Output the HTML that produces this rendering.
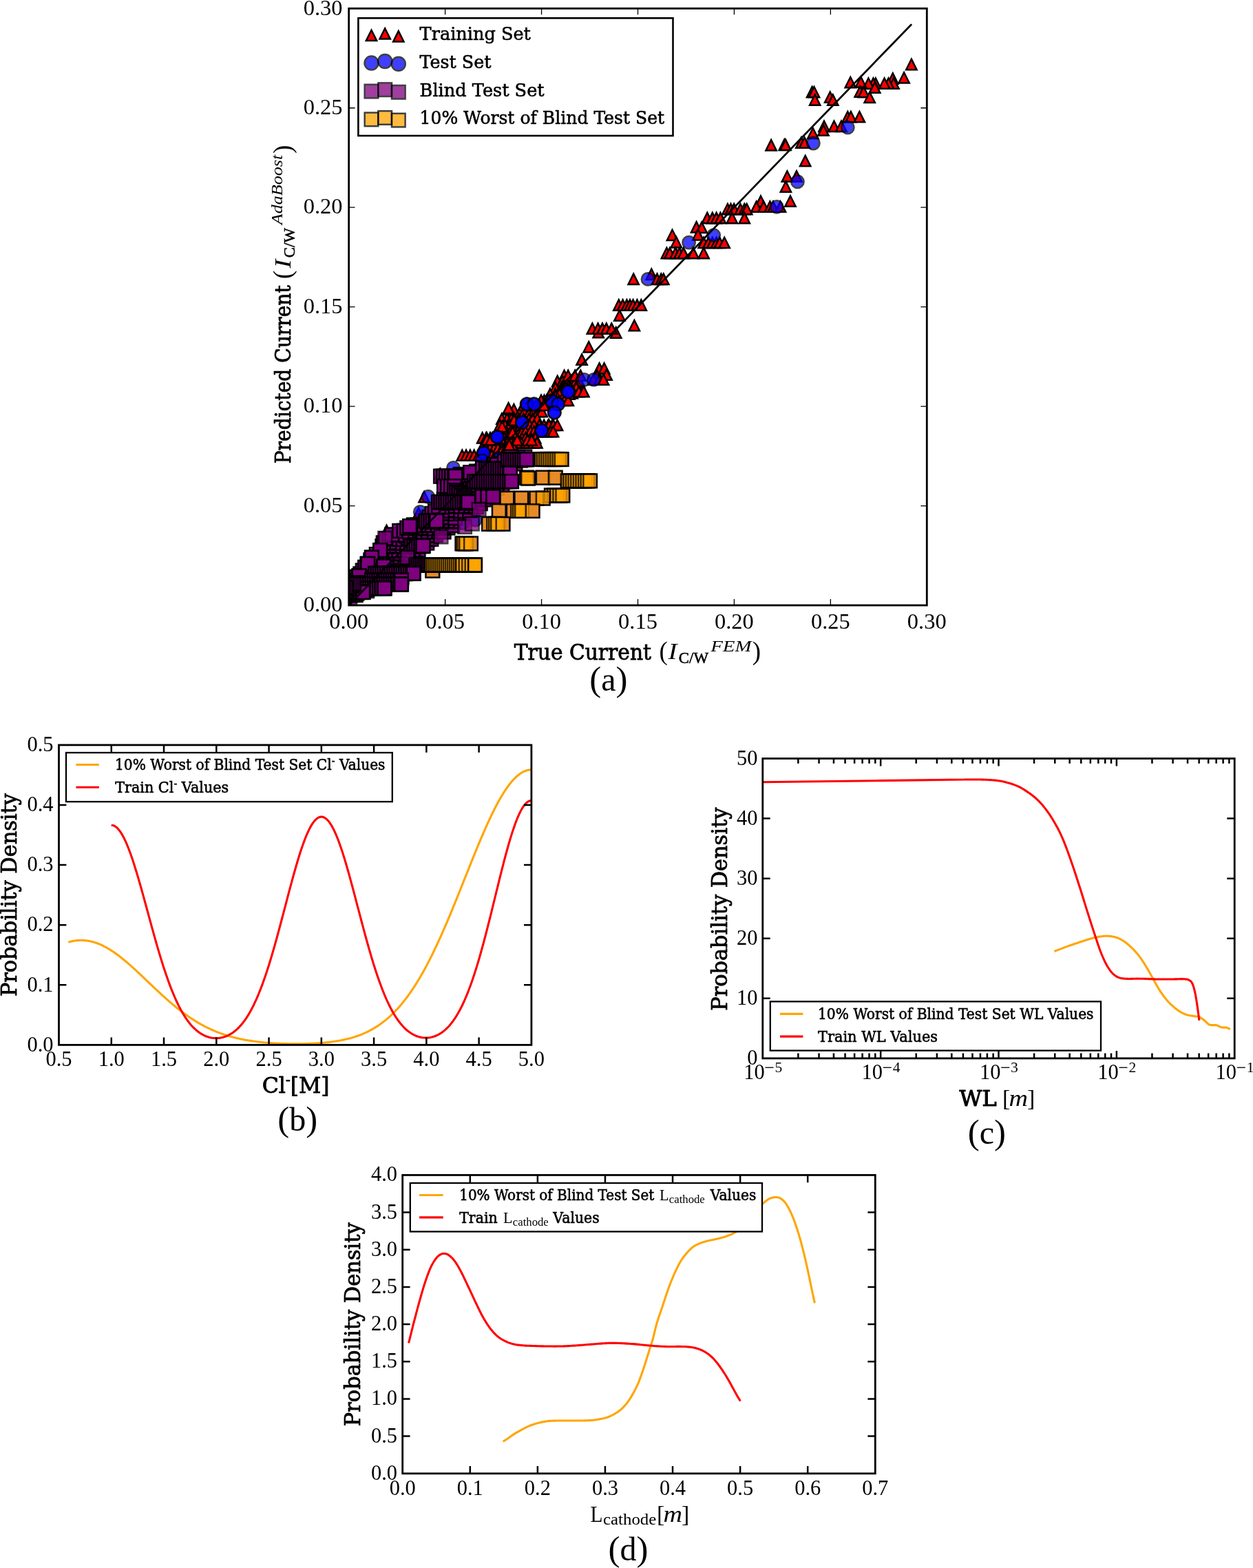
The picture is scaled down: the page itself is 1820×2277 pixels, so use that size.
<!DOCTYPE html>
<html lang="en"><head><meta charset="utf-8"><title>Figure</title>
<style>
html,body{margin:0;padding:0;background:#fff;}
svg{display:block;font-family:'Liberation Serif','DejaVu Serif',serif;}
text{fill:#000;}
.m use{opacity:.75;}
</style></head>
<body>
<svg width="1820" height="2277" viewBox="0 0 1820 2277">
<rect width="1820" height="2277" fill="#fff"/>
<clipPath id="ca"><rect x="506.7" y="12.3" width="839.5999999999999" height="866.7"/></clipPath>
<g clip-path="url(#ca)">
<defs><path id="t" d="M0 -7.65L7.65 7.65H-7.65Z"/><circle id="c" r="9.2"/><circle id="c2" r="10"/><rect id="q" x="-9.8" y="-9.8" width="19.6" height="19.6"/></defs>
<g fill="#f00" stroke="#000" stroke-width="2.5" stroke-linejoin="miter" stroke-miterlimit="10">
<use href="#t" x="1323.9" y="93.5"/><use href="#t" x="1313.1" y="112.9"/><use href="#t" x="1296.8" y="114.0"/><use href="#t" x="1298.0" y="121.1"/><use href="#t" x="1290.5" y="121.1"/><use href="#t" x="1284.6" y="121.1"/><use href="#t" x="1271.9" y="121.1"/><use href="#t" x="1268.4" y="121.3"/><use href="#t" x="1261.4" y="121.1"/><use href="#t" x="1250.4" y="119.2"/><use href="#t" x="1235.3" y="119.6"/><use href="#t" x="1270.7" y="127.1"/><use href="#t" x="1249.2" y="133.2"/><use href="#t" x="1254.5" y="133.7"/><use href="#t" x="1263.2" y="141.4"/><use href="#t" x="1179.6" y="133.7"/><use href="#t" x="1182.5" y="133.7"/><use href="#t" x="1183.7" y="145.1"/><use href="#t" x="1205.7" y="141.1"/><use href="#t" x="1209.8" y="145.1"/><use href="#t" x="1231.3" y="169.7"/><use href="#t" x="1235.9" y="169.7"/><use href="#t" x="1248.4" y="169.7"/><use href="#t" x="1197.0" y="183.4"/><use href="#t" x="1211.5" y="183.4"/><use href="#t" x="1222.0" y="183.4"/><use href="#t" x="1180.8" y="193.6"/><use href="#t" x="1195.9" y="189.2"/><use href="#t" x="1163.9" y="207.2"/><use href="#t" x="1168.6" y="207.2"/><use href="#t" x="1169.7" y="233.7"/><use href="#t" x="1157.0" y="256.0"/><use href="#t" x="1120.1" y="210.8"/><use href="#t" x="1139.3" y="210.3"/><use href="#t" x="1141.0" y="210.3"/><use href="#t" x="1143.4" y="256.1"/><use href="#t" x="1141.4" y="271.2"/><use href="#t" x="1148.0" y="292.1"/><use href="#t" x="1105.0" y="292.3"/><use href="#t" x="1098.7" y="300.2"/><use href="#t" x="1109.1" y="300.2"/><use href="#t" x="1118.4" y="300.2"/><use href="#t" x="1123.0" y="300.2"/><use href="#t" x="1133.5" y="300.2"/><use href="#t" x="1011.6" y="329.8"/><use href="#t" x="1019.2" y="330.4"/><use href="#t" x="1013.9" y="340.8"/><use href="#t" x="1056.9" y="303.7"/><use href="#t" x="1061.5" y="303.7"/><use href="#t" x="1066.2" y="303.7"/><use href="#t" x="1075.4" y="303.7"/><use href="#t" x="1081.3" y="303.7"/><use href="#t" x="1084.7" y="303.7"/><use href="#t" x="1027.3" y="316.5"/><use href="#t" x="1034.8" y="316.5"/><use href="#t" x="1040.6" y="316.5"/><use href="#t" x="1046.4" y="316.5"/><use href="#t" x="1063.3" y="316.5"/><use href="#t" x="1081.3" y="316.5"/><use href="#t" x="1022.1" y="352.4"/><use href="#t" x="1029.0" y="352.4"/><use href="#t" x="1034.8" y="352.4"/><use href="#t" x="1040.6" y="352.4"/><use href="#t" x="1045.3" y="352.4"/><use href="#t" x="1052.2" y="352.4"/><use href="#t" x="1007.0" y="367.5"/><use href="#t" x="1022.1" y="367.5"/><use href="#t" x="976.5" y="341.4"/><use href="#t" x="982.3" y="351.9"/><use href="#t" x="920.2" y="405.3"/><use href="#t" x="946.3" y="398.3"/><use href="#t" x="954.5" y="405.3"/><use href="#t" x="960.3" y="405.3"/><use href="#t" x="963.8" y="405.3"/><use href="#t" x="899.9" y="458.1"/><use href="#t" x="921.4" y="472.6"/><use href="#t" x="894.7" y="483.0"/><use href="#t" x="869.2" y="482.7"/><use href="#t" x="855.2" y="503.9"/><use href="#t" x="968.4" y="367.5"/><use href="#t" x="973.0" y="367.5"/><use href="#t" x="981.2" y="367.5"/><use href="#t" x="987.0" y="367.5"/><use href="#t" x="992.8" y="367.5"/><use href="#t" x="898.8" y="443.0"/><use href="#t" x="904.6" y="443.0"/><use href="#t" x="910.4" y="443.0"/><use href="#t" x="915.0" y="443.0"/><use href="#t" x="919.6" y="443.0"/><use href="#t" x="925.4" y="443.0"/><use href="#t" x="931.3" y="443.0"/><use href="#t" x="860.4" y="477.2"/><use href="#t" x="868.6" y="477.2"/><use href="#t" x="875.0" y="477.2"/><use href="#t" x="880.8" y="477.2"/><use href="#t" x="888.3" y="477.2"/><use href="#t" x="845.1" y="522.2"/><use href="#t" x="783.3" y="545.4"/><use href="#t" x="819.6" y="545.4"/><use href="#t" x="832.3" y="553.5"/><use href="#t" x="870.6" y="534.9"/><use href="#t" x="877.6" y="534.9"/><use href="#t" x="881.1" y="544.2"/><use href="#t" x="871.8" y="551.2"/><use href="#t" x="867.2" y="545.4"/><use href="#t" x="839.3" y="561.6"/><use href="#t" x="847.4" y="568.0"/><use href="#t" x="831.2" y="570.9"/><use href="#t" x="816.1" y="562.8"/><use href="#t" x="821.9" y="570.9"/><use href="#t" x="811.4" y="564.0"/><use href="#t" x="790.5" y="581.4"/><use href="#t" x="798.7" y="587.2"/><use href="#t" x="820.7" y="580.2"/><use href="#t" x="738.9" y="594.7"/><use href="#t" x="746.4" y="594.7"/><use href="#t" x="755.7" y="597.6"/><use href="#t" x="761.5" y="597.6"/><use href="#t" x="769.6" y="597.6"/><use href="#t" x="775.4" y="597.6"/><use href="#t" x="781.3" y="597.6"/><use href="#t" x="787.1" y="597.6"/><use href="#t" x="731.3" y="617.4"/><use href="#t" x="737.1" y="617.4"/><use href="#t" x="742.9" y="617.4"/><use href="#t" x="772.0" y="617.4"/><use href="#t" x="796.3" y="617.4"/><use href="#t" x="802.1" y="617.4"/><use href="#t" x="792.9" y="622.0"/><use href="#t" x="799.8" y="622.0"/><use href="#t" x="707.0" y="635.9"/><use href="#t" x="715.1" y="635.9"/><use href="#t" x="723.2" y="635.9"/><use href="#t" x="739.5" y="642.9"/><use href="#t" x="749.9" y="642.9"/><use href="#t" x="755.7" y="642.9"/><use href="#t" x="765.0" y="642.9"/><use href="#t" x="769.6" y="642.9"/><use href="#t" x="809.7" y="553.5"/><use href="#t" x="816.8" y="553.5"/><use href="#t" x="822.7" y="553.5"/><use href="#t" x="829.7" y="553.5"/><use href="#t" x="836.1" y="553.5"/><use href="#t" x="841.2" y="553.5"/><use href="#t" x="806.8" y="562.8"/><use href="#t" x="815.7" y="562.8"/><use href="#t" x="821.3" y="562.8"/><use href="#t" x="828.2" y="562.8"/><use href="#t" x="837.0" y="562.8"/><use href="#t" x="816.0" y="568.6"/><use href="#t" x="825.0" y="568.6"/><use href="#t" x="832.3" y="568.6"/><use href="#t" x="840.8" y="568.6"/><use href="#t" x="847.8" y="568.6"/><use href="#t" x="799.0" y="572.1"/><use href="#t" x="806.5" y="572.1"/><use href="#t" x="812.6" y="572.1"/><use href="#t" x="820.1" y="572.1"/><use href="#t" x="826.9" y="572.1"/><use href="#t" x="786.0" y="581.4"/><use href="#t" x="794.0" y="581.4"/><use href="#t" x="800.0" y="581.4"/><use href="#t" x="805.7" y="581.4"/><use href="#t" x="811.5" y="581.4"/><use href="#t" x="819.8" y="581.4"/><use href="#t" x="825.3" y="581.4"/><use href="#t" x="760.9" y="588.3"/><use href="#t" x="767.0" y="588.3"/><use href="#t" x="772.5" y="588.3"/><use href="#t" x="778.7" y="588.3"/><use href="#t" x="783.3" y="588.3"/><use href="#t" x="790.1" y="588.3"/><use href="#t" x="728.9" y="608.1"/><use href="#t" x="736.4" y="608.1"/><use href="#t" x="742.7" y="608.1"/><use href="#t" x="747.2" y="608.1"/><use href="#t" x="753.7" y="608.1"/><use href="#t" x="760.3" y="608.1"/><use href="#t" x="768.4" y="608.1"/><use href="#t" x="773.6" y="608.1"/><use href="#t" x="780.4" y="608.1"/><use href="#t" x="726.2" y="617.4"/><use href="#t" x="733.7" y="617.4"/><use href="#t" x="740.4" y="617.4"/><use href="#t" x="747.2" y="617.4"/><use href="#t" x="754.8" y="617.4"/><use href="#t" x="761.7" y="617.4"/><use href="#t" x="769.4" y="617.4"/><use href="#t" x="775.9" y="617.4"/><use href="#t" x="783.4" y="617.4"/><use href="#t" x="790.2" y="617.4"/><use href="#t" x="797.5" y="617.4"/><use href="#t" x="803.7" y="617.4"/><use href="#t" x="809.5" y="617.4"/><use href="#t" x="735.7" y="626.6"/><use href="#t" x="741.7" y="626.6"/><use href="#t" x="747.4" y="626.6"/><use href="#t" x="752.4" y="626.6"/><use href="#t" x="758.5" y="626.6"/><use href="#t" x="763.2" y="626.6"/><use href="#t" x="770.4" y="626.6"/><use href="#t" x="775.6" y="626.6"/><use href="#t" x="780.8" y="626.6"/><use href="#t" x="786.0" y="626.6"/><use href="#t" x="793.7" y="626.6"/><use href="#t" x="799.8" y="626.6"/><use href="#t" x="803.5" y="626.6"/><use href="#t" x="700.7" y="635.9"/><use href="#t" x="706.2" y="635.9"/><use href="#t" x="712.0" y="635.9"/><use href="#t" x="718.7" y="635.9"/><use href="#t" x="726.2" y="635.9"/><use href="#t" x="732.8" y="635.9"/><use href="#t" x="737.2" y="635.9"/><use href="#t" x="745.0" y="635.9"/><use href="#t" x="750.0" y="635.9"/><use href="#t" x="758.0" y="635.9"/><use href="#t" x="763.4" y="635.9"/><use href="#t" x="771.1" y="635.9"/><use href="#t" x="777.7" y="635.9"/><use href="#t" x="705.8" y="642.9"/><use href="#t" x="712.2" y="642.9"/><use href="#t" x="715.8" y="642.9"/><use href="#t" x="720.5" y="642.9"/><use href="#t" x="726.9" y="642.9"/><use href="#t" x="730.8" y="642.9"/><use href="#t" x="736.4" y="642.9"/><use href="#t" x="742.2" y="642.9"/><use href="#t" x="747.8" y="642.9"/><use href="#t" x="752.0" y="642.9"/><use href="#t" x="757.0" y="642.9"/><use href="#t" x="764.1" y="642.9"/><use href="#t" x="768.1" y="642.9"/><use href="#t" x="774.8" y="642.9"/><use href="#t" x="779.9" y="642.9"/><use href="#t" x="699.7" y="651.0"/><use href="#t" x="705.7" y="651.0"/><use href="#t" x="711.7" y="651.0"/><use href="#t" x="717.7" y="651.0"/><use href="#t" x="723.4" y="651.0"/><use href="#t" x="729.2" y="651.0"/><use href="#t" x="735.1" y="651.0"/><use href="#t" x="741.6" y="651.0"/><use href="#t" x="746.4" y="651.0"/><use href="#t" x="825.2" y="545.4"/><use href="#t" x="835.2" y="545.4"/><use href="#t" x="843.3" y="545.4"/><use href="#t" x="862.0" y="551.2"/><use href="#t" x="870.6" y="551.2"/><use href="#t" x="876.5" y="551.2"/><use href="#t" x="671.3" y="661.2"/><use href="#t" x="677.1" y="661.2"/><use href="#t" x="682.9" y="661.2"/><use href="#t" x="688.7" y="661.2"/><use href="#t" x="695.0" y="661.2"/><use href="#t" x="706.1" y="661.2"/><use href="#t" x="714.2" y="661.2"/><use href="#t" x="707.2" y="638.0"/><use href="#t" x="713.0" y="638.6"/><use href="#t" x="738.6" y="592.7"/><use href="#t" x="746.7" y="610.1"/><use href="#t" x="744.4" y="627.5"/><use href="#t" x="751.3" y="639.1"/><use href="#t" x="766.4" y="639.1"/><use href="#t" x="772.2" y="639.1"/><use href="#t" x="739.7" y="646.1"/><use href="#t" x="729.3" y="619.4"/><use href="#t" x="660.8" y="760.4"/><use href="#t" x="655.0" y="760.4"/><use href="#t" x="561.5" y="770.5"/><use href="#t" x="661.3" y="760.0"/><use href="#t" x="616.1" y="721.7"/><use href="#t" x="639.3" y="688.1"/><use href="#t" x="608.0" y="744.9"/>
</g>
<g class="m" fill="#00f" stroke="#000" stroke-width="2.5">
<use href="#c" x="1231.3" y="185.1"/><use href="#c" x="1181.3" y="208.0"/><use href="#c" x="1128.3" y="300.4"/><use href="#c" x="1036.6" y="341.6"/><use href="#c" x="1000.6" y="352.1"/><use href="#c" x="1158.4" y="263.8"/><use href="#c" x="941.1" y="405.4"/><use href="#c" x="848.6" y="551.4"/><use href="#c" x="862.5" y="551.4"/><use href="#c" x="824.8" y="568.8"/><use href="#c" x="765.0" y="586.8"/><use href="#c" x="775.4" y="586.8"/><use href="#c" x="801.0" y="582.1"/><use href="#c" x="810.3" y="586.8"/><use href="#c" x="805.0" y="599.0"/><use href="#c" x="758.0" y="613.5"/><use href="#c" x="786.5" y="625.1"/><use href="#c" x="722.1" y="634.4"/><use href="#c" x="702.3" y="657.6"/><use href="#c" x="723.2" y="665.7"/><use href="#c" x="825.2" y="569.0"/><use href="#c" x="765.5" y="587.0"/><use href="#c" x="775.9" y="587.0"/><use href="#c" x="801.5" y="582.4"/><use href="#c" x="810.7" y="587.0"/><use href="#c" x="805.5" y="599.2"/><use href="#c" x="758.5" y="613.7"/><use href="#c" x="786.9" y="625.3"/><use href="#c" x="722.5" y="634.6"/><use href="#c" x="702.8" y="657.8"/><use href="#c" x="723.7" y="666.0"/><use href="#c" x="700.3" y="668.9"/><use href="#c" x="658.5" y="679.4"/><use href="#c" x="621.9" y="721.3"/><use href="#c" x="610.3" y="743.4"/><use href="#c" x="671.8" y="759.6"/><use href="#c" x="690.4" y="755.0"/>
</g>
<g class="m" fill="#800080" stroke="#000" stroke-width="2.5">
<use href="#q" x="499.5" y="866.3"/><use href="#q" x="499.5" y="866.3"/><use href="#q" x="507.3" y="865.1"/><use href="#q" x="507.3" y="865.1"/><use href="#q" x="516.3" y="860.7"/><use href="#q" x="516.3" y="860.7"/><use href="#q" x="499.6" y="859.7"/><use href="#q" x="499.6" y="859.7"/><use href="#q" x="498.7" y="855.7"/><use href="#q" x="498.7" y="855.7"/><use href="#q" x="506.6" y="856.3"/><use href="#q" x="506.6" y="856.3"/><use href="#q" x="515.4" y="855.6"/><use href="#q" x="515.4" y="855.6"/><use href="#q" x="524.5" y="855.2"/><use href="#q" x="524.5" y="855.2"/><use href="#q" x="530.2" y="856.4"/><use href="#q" x="530.2" y="856.4"/><use href="#q" x="538.3" y="854.5"/><use href="#q" x="538.3" y="854.5"/><use href="#q" x="563.5" y="848.7"/><use href="#q" x="563.5" y="848.7"/><use href="#q" x="556.1" y="848.7"/><use href="#q" x="556.1" y="848.7"/><use href="#q" x="550.1" y="849.0"/><use href="#q" x="550.1" y="849.0"/><use href="#q" x="543.0" y="850.0"/><use href="#q" x="543.0" y="850.0"/><use href="#q" x="535.0" y="849.5"/><use href="#q" x="535.0" y="849.5"/><use href="#q" x="530.0" y="849.2"/><use href="#q" x="530.0" y="849.2"/><use href="#q" x="521.7" y="849.8"/><use href="#q" x="521.7" y="849.8"/><use href="#q" x="514.2" y="849.5"/><use href="#q" x="514.2" y="849.5"/><use href="#q" x="507.5" y="849.2"/><use href="#q" x="507.5" y="849.2"/><use href="#q" x="501.1" y="850.2"/><use href="#q" x="501.1" y="850.2"/><use href="#q" x="509.5" y="843.3"/><use href="#q" x="509.5" y="843.3"/><use href="#q" x="517.7" y="844.0"/><use href="#q" x="517.7" y="844.0"/><use href="#q" x="524.8" y="843.1"/><use href="#q" x="524.8" y="843.1"/><use href="#q" x="533.1" y="844.3"/><use href="#q" x="533.1" y="844.3"/><use href="#q" x="539.9" y="844.5"/><use href="#q" x="539.9" y="844.5"/><use href="#q" x="545.8" y="844.2"/><use href="#q" x="545.8" y="844.2"/><use href="#q" x="555.1" y="844.8"/><use href="#q" x="555.1" y="844.8"/><use href="#q" x="559.7" y="843.6"/><use href="#q" x="559.7" y="843.6"/><use href="#q" x="567.9" y="844.4"/><use href="#q" x="567.9" y="844.4"/><use href="#q" x="576.1" y="844.2"/><use href="#q" x="576.1" y="844.2"/><use href="#q" x="583.5" y="838.2"/><use href="#q" x="583.5" y="838.2"/><use href="#q" x="576.9" y="838.4"/><use href="#q" x="576.9" y="838.4"/><use href="#q" x="568.8" y="838.9"/><use href="#q" x="568.8" y="838.9"/><use href="#q" x="561.9" y="837.6"/><use href="#q" x="561.9" y="837.6"/><use href="#q" x="552.8" y="838.5"/><use href="#q" x="552.8" y="838.5"/><use href="#q" x="547.5" y="837.9"/><use href="#q" x="547.5" y="837.9"/><use href="#q" x="539.9" y="837.8"/><use href="#q" x="539.9" y="837.8"/><use href="#q" x="534.2" y="837.7"/><use href="#q" x="534.2" y="837.7"/><use href="#q" x="526.8" y="839.1"/><use href="#q" x="526.8" y="839.1"/><use href="#q" x="518.5" y="837.8"/><use href="#q" x="518.5" y="837.8"/><use href="#q" x="523.4" y="833.4"/><use href="#q" x="523.4" y="833.4"/><use href="#q" x="532.1" y="834.4"/><use href="#q" x="532.1" y="834.4"/><use href="#q" x="537.0" y="834.6"/><use href="#q" x="537.0" y="834.6"/><use href="#q" x="545.4" y="833.0"/><use href="#q" x="545.4" y="833.0"/><use href="#q" x="552.9" y="833.0"/><use href="#q" x="552.9" y="833.0"/><use href="#q" x="561.2" y="833.1"/><use href="#q" x="561.2" y="833.1"/><use href="#q" x="568.3" y="833.1"/><use href="#q" x="568.3" y="833.1"/><use href="#q" x="575.7" y="833.6"/><use href="#q" x="575.7" y="833.6"/><use href="#q" x="581.2" y="833.8"/><use href="#q" x="581.2" y="833.8"/><use href="#q" x="588.9" y="833.2"/><use href="#q" x="588.9" y="833.2"/><use href="#q" x="593.1" y="829.7"/><use href="#q" x="593.1" y="829.7"/><use href="#q" x="583.3" y="829.9"/><use href="#q" x="583.3" y="829.9"/><use href="#q" x="578.0" y="829.7"/><use href="#q" x="578.0" y="829.7"/><use href="#q" x="570.6" y="828.9"/><use href="#q" x="570.6" y="828.9"/><use href="#q" x="563.1" y="828.9"/><use href="#q" x="563.1" y="828.9"/><use href="#q" x="556.4" y="828.3"/><use href="#q" x="556.4" y="828.3"/><use href="#q" x="550.0" y="829.4"/><use href="#q" x="550.0" y="829.4"/><use href="#q" x="541.7" y="828.2"/><use href="#q" x="541.7" y="828.2"/><use href="#q" x="533.9" y="828.2"/><use href="#q" x="533.9" y="828.2"/><use href="#q" x="526.8" y="828.5"/><use href="#q" x="526.8" y="828.5"/><use href="#q" x="530.1" y="823.8"/><use href="#q" x="530.1" y="823.8"/><use href="#q" x="536.3" y="824.0"/><use href="#q" x="536.3" y="824.0"/><use href="#q" x="543.2" y="824.0"/><use href="#q" x="543.2" y="824.0"/><use href="#q" x="550.7" y="823.6"/><use href="#q" x="550.7" y="823.6"/><use href="#q" x="557.7" y="825.0"/><use href="#q" x="557.7" y="825.0"/><use href="#q" x="565.5" y="825.3"/><use href="#q" x="565.5" y="825.3"/><use href="#q" x="571.6" y="824.3"/><use href="#q" x="571.6" y="824.3"/><use href="#q" x="581.2" y="824.3"/><use href="#q" x="581.2" y="824.3"/><use href="#q" x="587.5" y="823.5"/><use href="#q" x="587.5" y="823.5"/><use href="#q" x="593.2" y="823.5"/><use href="#q" x="593.2" y="823.5"/><use href="#q" x="596.7" y="820.2"/><use href="#q" x="596.7" y="820.2"/><use href="#q" x="588.3" y="820.0"/><use href="#q" x="588.3" y="820.0"/><use href="#q" x="582.9" y="819.6"/><use href="#q" x="582.9" y="819.6"/><use href="#q" x="574.8" y="818.8"/><use href="#q" x="574.8" y="818.8"/><use href="#q" x="569.0" y="819.0"/><use href="#q" x="569.0" y="819.0"/><use href="#q" x="563.4" y="818.6"/><use href="#q" x="563.4" y="818.6"/><use href="#q" x="553.7" y="819.8"/><use href="#q" x="553.7" y="819.8"/><use href="#q" x="547.1" y="819.3"/><use href="#q" x="547.1" y="819.3"/><use href="#q" x="542.2" y="819.8"/><use href="#q" x="542.2" y="819.8"/><use href="#q" x="533.6" y="818.9"/><use href="#q" x="533.6" y="818.9"/><use href="#q" x="538.3" y="813.4"/><use href="#q" x="538.3" y="813.4"/><use href="#q" x="545.6" y="813.9"/><use href="#q" x="545.6" y="813.9"/><use href="#q" x="552.1" y="813.9"/><use href="#q" x="552.1" y="813.9"/><use href="#q" x="558.8" y="814.8"/><use href="#q" x="558.8" y="814.8"/><use href="#q" x="565.7" y="815.3"/><use href="#q" x="565.7" y="815.3"/><use href="#q" x="572.3" y="814.3"/><use href="#q" x="572.3" y="814.3"/><use href="#q" x="577.6" y="815.2"/><use href="#q" x="577.6" y="815.2"/><use href="#q" x="585.4" y="815.3"/><use href="#q" x="585.4" y="815.3"/><use href="#q" x="591.7" y="815.3"/><use href="#q" x="591.7" y="815.3"/><use href="#q" x="597.6" y="814.1"/><use href="#q" x="597.6" y="814.1"/><use href="#q" x="600.2" y="809.8"/><use href="#q" x="600.2" y="809.8"/><use href="#q" x="595.6" y="810.3"/><use href="#q" x="595.6" y="810.3"/><use href="#q" x="588.4" y="810.1"/><use href="#q" x="588.4" y="810.1"/><use href="#q" x="581.1" y="810.0"/><use href="#q" x="581.1" y="810.0"/><use href="#q" x="575.5" y="809.4"/><use href="#q" x="575.5" y="809.4"/><use href="#q" x="568.9" y="808.8"/><use href="#q" x="568.9" y="808.8"/><use href="#q" x="561.3" y="810.1"/><use href="#q" x="561.3" y="810.1"/><use href="#q" x="553.3" y="809.2"/><use href="#q" x="553.3" y="809.2"/><use href="#q" x="546.6" y="810.1"/><use href="#q" x="546.6" y="810.1"/><use href="#q" x="539.9" y="810.4"/><use href="#q" x="539.9" y="810.4"/><use href="#q" x="546.8" y="805.0"/><use href="#q" x="546.8" y="805.0"/><use href="#q" x="555.5" y="805.3"/><use href="#q" x="555.5" y="805.3"/><use href="#q" x="562.0" y="804.7"/><use href="#q" x="562.0" y="804.7"/><use href="#q" x="567.4" y="804.0"/><use href="#q" x="567.4" y="804.0"/><use href="#q" x="574.4" y="804.4"/><use href="#q" x="574.4" y="804.4"/><use href="#q" x="581.5" y="803.6"/><use href="#q" x="581.5" y="803.6"/><use href="#q" x="590.9" y="803.4"/><use href="#q" x="590.9" y="803.4"/><use href="#q" x="597.7" y="805.3"/><use href="#q" x="597.7" y="805.3"/><use href="#q" x="602.8" y="804.6"/><use href="#q" x="602.8" y="804.6"/><use href="#q" x="607.5" y="798.5"/><use href="#q" x="607.5" y="798.5"/><use href="#q" x="599.7" y="798.8"/><use href="#q" x="599.7" y="798.8"/><use href="#q" x="593.0" y="798.3"/><use href="#q" x="593.0" y="798.3"/><use href="#q" x="586.2" y="799.8"/><use href="#q" x="586.2" y="799.8"/><use href="#q" x="579.3" y="798.7"/><use href="#q" x="579.3" y="798.7"/><use href="#q" x="574.4" y="798.9"/><use href="#q" x="574.4" y="798.9"/><use href="#q" x="567.7" y="799.2"/><use href="#q" x="567.7" y="799.2"/><use href="#q" x="559.6" y="799.8"/><use href="#q" x="559.6" y="799.8"/><use href="#q" x="554.4" y="798.8"/><use href="#q" x="554.4" y="798.8"/><use href="#q" x="555.5" y="793.0"/><use href="#q" x="555.5" y="793.0"/><use href="#q" x="562.9" y="793.5"/><use href="#q" x="562.9" y="793.5"/><use href="#q" x="570.2" y="793.2"/><use href="#q" x="570.2" y="793.2"/><use href="#q" x="576.1" y="792.7"/><use href="#q" x="576.1" y="792.7"/><use href="#q" x="584.7" y="793.1"/><use href="#q" x="584.7" y="793.1"/><use href="#q" x="591.3" y="793.2"/><use href="#q" x="591.3" y="793.2"/><use href="#q" x="598.1" y="793.6"/><use href="#q" x="598.1" y="793.6"/><use href="#q" x="607.8" y="792.3"/><use href="#q" x="607.8" y="792.3"/><use href="#q" x="613.3" y="793.2"/><use href="#q" x="613.3" y="793.2"/><use href="#q" x="620.2" y="788.5"/><use href="#q" x="620.2" y="788.5"/><use href="#q" x="613.3" y="788.1"/><use href="#q" x="613.3" y="788.1"/><use href="#q" x="606.6" y="788.2"/><use href="#q" x="606.6" y="788.2"/><use href="#q" x="599.1" y="788.1"/><use href="#q" x="599.1" y="788.1"/><use href="#q" x="593.6" y="789.0"/><use href="#q" x="593.6" y="789.0"/><use href="#q" x="586.1" y="788.6"/><use href="#q" x="586.1" y="788.6"/><use href="#q" x="578.6" y="788.9"/><use href="#q" x="578.6" y="788.9"/><use href="#q" x="571.4" y="789.0"/><use href="#q" x="571.4" y="789.0"/><use href="#q" x="565.2" y="787.7"/><use href="#q" x="565.2" y="787.7"/><use href="#q" x="556.8" y="788.3"/><use href="#q" x="556.8" y="788.3"/><use href="#q" x="561.0" y="782.6"/><use href="#q" x="561.0" y="782.6"/><use href="#q" x="565.7" y="782.5"/><use href="#q" x="565.7" y="782.5"/><use href="#q" x="572.4" y="781.5"/><use href="#q" x="572.4" y="781.5"/><use href="#q" x="580.0" y="783.0"/><use href="#q" x="580.0" y="783.0"/><use href="#q" x="585.7" y="783.1"/><use href="#q" x="585.7" y="783.1"/><use href="#q" x="592.9" y="781.6"/><use href="#q" x="592.9" y="781.6"/><use href="#q" x="599.1" y="783.1"/><use href="#q" x="599.1" y="783.1"/><use href="#q" x="607.7" y="782.0"/><use href="#q" x="607.7" y="782.0"/><use href="#q" x="614.8" y="782.2"/><use href="#q" x="614.8" y="782.2"/><use href="#q" x="621.8" y="783.2"/><use href="#q" x="621.8" y="783.2"/><use href="#q" x="626.3" y="782.9"/><use href="#q" x="626.3" y="782.9"/><use href="#q" x="632.9" y="777.1"/><use href="#q" x="632.9" y="777.1"/><use href="#q" x="627.0" y="777.6"/><use href="#q" x="627.0" y="777.6"/><use href="#q" x="620.1" y="777.4"/><use href="#q" x="620.1" y="777.4"/><use href="#q" x="611.3" y="776.5"/><use href="#q" x="611.3" y="776.5"/><use href="#q" x="606.2" y="778.4"/><use href="#q" x="606.2" y="778.4"/><use href="#q" x="597.8" y="778.0"/><use href="#q" x="597.8" y="778.0"/><use href="#q" x="590.2" y="778.3"/><use href="#q" x="590.2" y="778.3"/><use href="#q" x="583.4" y="776.6"/><use href="#q" x="583.4" y="776.6"/><use href="#q" x="576.8" y="776.9"/><use href="#q" x="576.8" y="776.9"/><use href="#q" x="569.3" y="776.5"/><use href="#q" x="569.3" y="776.5"/><use href="#q" x="580.2" y="770.9"/><use href="#q" x="580.2" y="770.9"/><use href="#q" x="586.7" y="770.8"/><use href="#q" x="586.7" y="770.8"/><use href="#q" x="594.6" y="772.1"/><use href="#q" x="594.6" y="772.1"/><use href="#q" x="603.1" y="771.5"/><use href="#q" x="603.1" y="771.5"/><use href="#q" x="609.8" y="770.8"/><use href="#q" x="609.8" y="770.8"/><use href="#q" x="615.1" y="772.6"/><use href="#q" x="615.1" y="772.6"/><use href="#q" x="621.8" y="771.9"/><use href="#q" x="621.8" y="771.9"/><use href="#q" x="631.1" y="772.3"/><use href="#q" x="631.1" y="772.3"/><use href="#q" x="637.1" y="770.8"/><use href="#q" x="637.1" y="770.8"/><use href="#q" x="644.5" y="772.4"/><use href="#q" x="644.5" y="772.4"/><use href="#q" x="650.4" y="766.4"/><use href="#q" x="650.4" y="766.4"/><use href="#q" x="644.0" y="766.1"/><use href="#q" x="644.0" y="766.1"/><use href="#q" x="638.0" y="766.4"/><use href="#q" x="638.0" y="766.4"/><use href="#q" x="630.0" y="766.7"/><use href="#q" x="630.0" y="766.7"/><use href="#q" x="623.6" y="766.6"/><use href="#q" x="623.6" y="766.6"/><use href="#q" x="618.8" y="767.5"/><use href="#q" x="618.8" y="767.5"/><use href="#q" x="610.8" y="766.6"/><use href="#q" x="610.8" y="766.6"/><use href="#q" x="603.4" y="767.0"/><use href="#q" x="603.4" y="767.0"/><use href="#q" x="596.9" y="766.4"/><use href="#q" x="596.9" y="766.4"/><use href="#q" x="591.3" y="766.7"/><use href="#q" x="591.3" y="766.7"/><use href="#q" x="600.9" y="762.3"/><use href="#q" x="600.9" y="762.3"/><use href="#q" x="607.0" y="762.4"/><use href="#q" x="607.0" y="762.4"/><use href="#q" x="616.0" y="763.1"/><use href="#q" x="616.0" y="763.1"/><use href="#q" x="622.2" y="762.2"/><use href="#q" x="622.2" y="762.2"/><use href="#q" x="628.0" y="762.5"/><use href="#q" x="628.0" y="762.5"/><use href="#q" x="635.7" y="762.8"/><use href="#q" x="635.7" y="762.8"/><use href="#q" x="643.9" y="763.4"/><use href="#q" x="643.9" y="763.4"/><use href="#q" x="648.2" y="762.1"/><use href="#q" x="648.2" y="762.1"/><use href="#q" x="657.1" y="763.1"/><use href="#q" x="657.1" y="763.1"/><use href="#q" x="657.5" y="757.3"/><use href="#q" x="657.5" y="757.3"/><use href="#q" x="649.9" y="756.4"/><use href="#q" x="649.9" y="756.4"/><use href="#q" x="641.8" y="756.2"/><use href="#q" x="641.8" y="756.2"/><use href="#q" x="634.8" y="756.0"/><use href="#q" x="634.8" y="756.0"/><use href="#q" x="627.2" y="757.5"/><use href="#q" x="627.2" y="757.5"/><use href="#q" x="620.0" y="757.6"/><use href="#q" x="620.0" y="757.6"/><use href="#q" x="623.6" y="750.8"/><use href="#q" x="623.6" y="750.8"/><use href="#q" x="630.9" y="752.2"/><use href="#q" x="630.9" y="752.2"/><use href="#q" x="638.5" y="752.2"/><use href="#q" x="638.5" y="752.2"/><use href="#q" x="646.4" y="751.4"/><use href="#q" x="646.4" y="751.4"/><use href="#q" x="652.9" y="750.8"/><use href="#q" x="652.9" y="750.8"/><use href="#q" x="661.2" y="752.2"/><use href="#q" x="661.2" y="752.2"/><use href="#q" x="671.0" y="745.3"/><use href="#q" x="671.0" y="745.3"/><use href="#q" x="662.9" y="745.8"/><use href="#q" x="662.9" y="745.8"/><use href="#q" x="656.7" y="745.5"/><use href="#q" x="656.7" y="745.5"/><use href="#q" x="649.4" y="746.1"/><use href="#q" x="649.4" y="746.1"/><use href="#q" x="642.0" y="745.4"/><use href="#q" x="642.0" y="745.4"/><use href="#q" x="633.7" y="745.3"/><use href="#q" x="633.7" y="745.3"/><use href="#q" x="627.6" y="745.9"/><use href="#q" x="627.6" y="745.9"/><use href="#q" x="632.0" y="742.3"/><use href="#q" x="632.0" y="742.3"/><use href="#q" x="639.1" y="740.7"/><use href="#q" x="639.1" y="740.7"/><use href="#q" x="647.1" y="741.8"/><use href="#q" x="647.1" y="741.8"/><use href="#q" x="654.1" y="741.7"/><use href="#q" x="654.1" y="741.7"/><use href="#q" x="661.5" y="740.5"/><use href="#q" x="661.5" y="740.5"/><use href="#q" x="669.3" y="742.0"/><use href="#q" x="669.3" y="742.0"/><use href="#q" x="675.1" y="742.2"/><use href="#q" x="675.1" y="742.2"/><use href="#q" x="682.2" y="741.6"/><use href="#q" x="682.2" y="741.6"/><use href="#q" x="692.1" y="736.1"/><use href="#q" x="692.1" y="736.1"/><use href="#q" x="684.3" y="736.1"/><use href="#q" x="684.3" y="736.1"/><use href="#q" x="678.2" y="735.2"/><use href="#q" x="678.2" y="735.2"/><use href="#q" x="671.3" y="734.8"/><use href="#q" x="671.3" y="734.8"/><use href="#q" x="664.5" y="735.0"/><use href="#q" x="664.5" y="735.0"/><use href="#q" x="656.7" y="735.4"/><use href="#q" x="656.7" y="735.4"/><use href="#q" x="649.9" y="734.9"/><use href="#q" x="649.9" y="734.9"/><use href="#q" x="641.9" y="736.4"/><use href="#q" x="641.9" y="736.4"/><use href="#q" x="637.0" y="735.8"/><use href="#q" x="637.0" y="735.8"/><use href="#q" x="640.9" y="729.4"/><use href="#q" x="640.9" y="729.4"/><use href="#q" x="648.2" y="730.7"/><use href="#q" x="648.2" y="730.7"/><use href="#q" x="654.7" y="729.7"/><use href="#q" x="654.7" y="729.7"/><use href="#q" x="660.3" y="729.4"/><use href="#q" x="660.3" y="729.4"/><use href="#q" x="669.8" y="729.8"/><use href="#q" x="669.8" y="729.8"/><use href="#q" x="676.8" y="730.7"/><use href="#q" x="676.8" y="730.7"/><use href="#q" x="683.1" y="729.6"/><use href="#q" x="683.1" y="729.6"/><use href="#q" x="690.3" y="730.7"/><use href="#q" x="690.3" y="730.7"/><use href="#q" x="697.8" y="731.2"/><use href="#q" x="697.8" y="731.2"/><use href="#q" x="702.7" y="725.4"/><use href="#q" x="702.7" y="725.4"/><use href="#q" x="695.1" y="724.5"/><use href="#q" x="695.1" y="724.5"/><use href="#q" x="687.6" y="725.1"/><use href="#q" x="687.6" y="725.1"/><use href="#q" x="682.0" y="724.0"/><use href="#q" x="682.0" y="724.0"/><use href="#q" x="674.6" y="724.1"/><use href="#q" x="674.6" y="724.1"/><use href="#q" x="667.8" y="724.5"/><use href="#q" x="667.8" y="724.5"/><use href="#q" x="660.3" y="725.3"/><use href="#q" x="660.3" y="725.3"/><use href="#q" x="652.4" y="725.3"/><use href="#q" x="652.4" y="725.3"/><use href="#q" x="644.8" y="725.3"/><use href="#q" x="644.8" y="725.3"/><use href="#q" x="649.6" y="719.9"/><use href="#q" x="649.6" y="719.9"/><use href="#q" x="656.9" y="720.6"/><use href="#q" x="656.9" y="720.6"/><use href="#q" x="664.4" y="720.9"/><use href="#q" x="664.4" y="720.9"/><use href="#q" x="670.8" y="719.9"/><use href="#q" x="670.8" y="719.9"/><use href="#q" x="680.6" y="719.5"/><use href="#q" x="680.6" y="719.5"/><use href="#q" x="686.0" y="719.4"/><use href="#q" x="686.0" y="719.4"/><use href="#q" x="695.8" y="720.8"/><use href="#q" x="695.8" y="720.8"/><use href="#q" x="703.1" y="719.4"/><use href="#q" x="703.1" y="719.4"/><use href="#q" x="707.8" y="720.1"/><use href="#q" x="707.8" y="720.1"/><use href="#q" x="715.1" y="714.2"/><use href="#q" x="715.1" y="714.2"/><use href="#q" x="709.5" y="714.2"/><use href="#q" x="709.5" y="714.2"/><use href="#q" x="700.7" y="715.2"/><use href="#q" x="700.7" y="715.2"/><use href="#q" x="695.3" y="715.1"/><use href="#q" x="695.3" y="715.1"/><use href="#q" x="689.0" y="714.8"/><use href="#q" x="689.0" y="714.8"/><use href="#q" x="681.0" y="714.5"/><use href="#q" x="681.0" y="714.5"/><use href="#q" x="675.1" y="714.9"/><use href="#q" x="675.1" y="714.9"/><use href="#q" x="666.2" y="714.8"/><use href="#q" x="666.2" y="714.8"/><use href="#q" x="661.9" y="715.9"/><use href="#q" x="661.9" y="715.9"/><use href="#q" x="653.8" y="714.2"/><use href="#q" x="653.8" y="714.2"/><use href="#q" x="655.7" y="709.4"/><use href="#q" x="655.7" y="709.4"/><use href="#q" x="660.3" y="709.1"/><use href="#q" x="660.3" y="709.1"/><use href="#q" x="669.4" y="708.6"/><use href="#q" x="669.4" y="708.6"/><use href="#q" x="675.6" y="708.7"/><use href="#q" x="675.6" y="708.7"/><use href="#q" x="682.9" y="710.2"/><use href="#q" x="682.9" y="710.2"/><use href="#q" x="687.8" y="709.1"/><use href="#q" x="687.8" y="709.1"/><use href="#q" x="694.8" y="710.4"/><use href="#q" x="694.8" y="710.4"/><use href="#q" x="701.6" y="709.0"/><use href="#q" x="701.6" y="709.0"/><use href="#q" x="710.2" y="709.0"/><use href="#q" x="710.2" y="709.0"/><use href="#q" x="715.7" y="709.5"/><use href="#q" x="715.7" y="709.5"/><use href="#q" x="721.8" y="708.9"/><use href="#q" x="721.8" y="708.9"/><use href="#q" x="729.3" y="704.7"/><use href="#q" x="729.3" y="704.7"/><use href="#q" x="721.7" y="704.0"/><use href="#q" x="721.7" y="704.0"/><use href="#q" x="715.8" y="703.5"/><use href="#q" x="715.8" y="703.5"/><use href="#q" x="707.0" y="705.3"/><use href="#q" x="707.0" y="705.3"/><use href="#q" x="702.2" y="703.7"/><use href="#q" x="702.2" y="703.7"/><use href="#q" x="695.0" y="704.4"/><use href="#q" x="695.0" y="704.4"/><use href="#q" x="689.4" y="704.1"/><use href="#q" x="689.4" y="704.1"/><use href="#q" x="682.6" y="704.0"/><use href="#q" x="682.6" y="704.0"/><use href="#q" x="675.0" y="704.9"/><use href="#q" x="675.0" y="704.9"/><use href="#q" x="668.8" y="705.4"/><use href="#q" x="668.8" y="705.4"/><use href="#q" x="662.2" y="703.9"/><use href="#q" x="662.2" y="703.9"/><use href="#q" x="655.7" y="704.7"/><use href="#q" x="655.7" y="704.7"/><use href="#q" x="654.2" y="698.6"/><use href="#q" x="654.2" y="698.6"/><use href="#q" x="660.4" y="699.1"/><use href="#q" x="660.4" y="699.1"/><use href="#q" x="666.4" y="698.6"/><use href="#q" x="666.4" y="698.6"/><use href="#q" x="673.1" y="698.9"/><use href="#q" x="673.1" y="698.9"/><use href="#q" x="679.9" y="698.9"/><use href="#q" x="679.9" y="698.9"/><use href="#q" x="688.6" y="699.5"/><use href="#q" x="688.6" y="699.5"/><use href="#q" x="694.1" y="700.2"/><use href="#q" x="694.1" y="700.2"/><use href="#q" x="699.9" y="699.9"/><use href="#q" x="699.9" y="699.9"/><use href="#q" x="708.6" y="699.2"/><use href="#q" x="708.6" y="699.2"/><use href="#q" x="715.6" y="699.2"/><use href="#q" x="715.6" y="699.2"/><use href="#q" x="720.6" y="699.5"/><use href="#q" x="720.6" y="699.5"/><use href="#q" x="726.4" y="699.2"/><use href="#q" x="726.4" y="699.2"/><use href="#q" x="733.2" y="699.1"/><use href="#q" x="733.2" y="699.1"/><use href="#q" x="736.1" y="695.5"/><use href="#q" x="736.1" y="695.5"/><use href="#q" x="729.7" y="693.8"/><use href="#q" x="729.7" y="693.8"/><use href="#q" x="721.6" y="693.8"/><use href="#q" x="721.6" y="693.8"/><use href="#q" x="714.8" y="695.2"/><use href="#q" x="714.8" y="695.2"/><use href="#q" x="707.7" y="695.6"/><use href="#q" x="707.7" y="695.6"/><use href="#q" x="701.1" y="694.7"/><use href="#q" x="701.1" y="694.7"/><use href="#q" x="694.2" y="694.9"/><use href="#q" x="694.2" y="694.9"/><use href="#q" x="689.5" y="693.8"/><use href="#q" x="689.5" y="693.8"/><use href="#q" x="682.2" y="694.5"/><use href="#q" x="682.2" y="694.5"/><use href="#q" x="675.1" y="695.6"/><use href="#q" x="675.1" y="695.6"/><use href="#q" x="667.3" y="695.4"/><use href="#q" x="667.3" y="695.4"/><use href="#q" x="663.2" y="695.5"/><use href="#q" x="663.2" y="695.5"/><use href="#q" x="654.5" y="695.7"/><use href="#q" x="654.5" y="695.7"/><use href="#q" x="668.9" y="688.9"/><use href="#q" x="668.9" y="688.9"/><use href="#q" x="676.4" y="690.4"/><use href="#q" x="676.4" y="690.4"/><use href="#q" x="684.8" y="689.3"/><use href="#q" x="684.8" y="689.3"/><use href="#q" x="692.6" y="690.7"/><use href="#q" x="692.6" y="690.7"/><use href="#q" x="700.7" y="690.1"/><use href="#q" x="700.7" y="690.1"/><use href="#q" x="707.4" y="689.4"/><use href="#q" x="707.4" y="689.4"/><use href="#q" x="714.5" y="689.1"/><use href="#q" x="714.5" y="689.1"/><use href="#q" x="722.2" y="689.3"/><use href="#q" x="722.2" y="689.3"/><use href="#q" x="728.6" y="690.1"/><use href="#q" x="728.6" y="690.1"/><use href="#q" x="736.2" y="690.2"/><use href="#q" x="736.2" y="690.2"/><use href="#q" x="736.4" y="685.0"/><use href="#q" x="736.4" y="685.0"/><use href="#q" x="728.0" y="686.0"/><use href="#q" x="728.0" y="686.0"/><use href="#q" x="722.3" y="685.4"/><use href="#q" x="722.3" y="685.4"/><use href="#q" x="713.6" y="685.9"/><use href="#q" x="713.6" y="685.9"/><use href="#q" x="706.6" y="685.1"/><use href="#q" x="706.6" y="685.1"/><use href="#q" x="699.7" y="684.6"/><use href="#q" x="699.7" y="684.6"/><use href="#q" x="692.0" y="684.6"/><use href="#q" x="692.0" y="684.6"/><use href="#q" x="683.1" y="686.0"/><use href="#q" x="683.1" y="686.0"/><use href="#q" x="700.9" y="679.8"/><use href="#q" x="700.9" y="679.8"/><use href="#q" x="707.5" y="680.4"/><use href="#q" x="707.5" y="680.4"/><use href="#q" x="716.4" y="679.0"/><use href="#q" x="716.4" y="679.0"/><use href="#q" x="724.4" y="678.6"/><use href="#q" x="724.4" y="678.6"/><use href="#q" x="731.1" y="679.2"/><use href="#q" x="731.1" y="679.2"/><use href="#q" x="738.1" y="679.4"/><use href="#q" x="738.1" y="679.4"/><use href="#q" x="748.3" y="673.4"/><use href="#q" x="748.3" y="673.4"/><use href="#q" x="739.1" y="674.9"/><use href="#q" x="739.1" y="674.9"/><use href="#q" x="729.4" y="673.6"/><use href="#q" x="729.4" y="673.6"/><use href="#q" x="717.7" y="674.6"/><use href="#q" x="717.7" y="674.6"/><use href="#q" x="732.9" y="669.9"/><use href="#q" x="732.9" y="669.9"/><use href="#q" x="745.9" y="669.0"/><use href="#q" x="745.9" y="669.0"/><use href="#q" x="755.9" y="668.4"/><use href="#q" x="755.9" y="668.4"/><use href="#q" x="762.2" y="663.5"/><use href="#q" x="762.2" y="663.5"/><use href="#q" x="751.9" y="663.9"/><use href="#q" x="751.9" y="663.9"/><use href="#q" x="741.8" y="663.6"/><use href="#q" x="741.8" y="663.6"/><use href="#q" x="506.4" y="856.9"/><use href="#q" x="502.7" y="863.3"/><use href="#q" x="540.4" y="853.4"/><use href="#q" x="533.0" y="858.3"/><use href="#q" x="541.9" y="845.0"/><use href="#q" x="508.3" y="868.4"/><use href="#q" x="533.6" y="844.5"/><use href="#q" x="529.9" y="851.0"/><use href="#q" x="516.8" y="856.2"/><use href="#q" x="507.6" y="855.7"/><use href="#q" x="512.6" y="858.3"/><use href="#q" x="543.0" y="841.6"/><use href="#q" x="543.4" y="842.6"/><use href="#q" x="516.0" y="863.4"/><use href="#q" x="537.0" y="848.6"/><use href="#q" x="502.2" y="864.6"/><use href="#q" x="516.8" y="864.4"/><use href="#q" x="508.7" y="860.2"/><use href="#q" x="540.4" y="841.5"/><use href="#q" x="518.5" y="862.1"/><use href="#q" x="534.5" y="844.2"/><use href="#q" x="501.6" y="859.2"/><use href="#q" x="541.4" y="844.2"/><use href="#q" x="533.6" y="856.6"/><use href="#q" x="515.3" y="856.0"/><use href="#q" x="543.1" y="848.5"/><use href="#q" x="511.8" y="863.8"/><use href="#q" x="514.2" y="856.5"/><use href="#q" x="500.2" y="869.5"/><use href="#q" x="541.2" y="849.5"/><use href="#q" x="542.4" y="840.5"/><use href="#q" x="510.5" y="861.0"/><use href="#q" x="543.1" y="853.2"/><use href="#q" x="517.4" y="854.8"/><use href="#q" x="519.3" y="857.3"/><use href="#q" x="541.8" y="843.0"/><use href="#q" x="536.1" y="853.3"/><use href="#q" x="537.0" y="853.4"/><use href="#q" x="527.3" y="851.4"/><use href="#q" x="514.4" y="857.7"/><use href="#q" x="706.0" y="680.5"/><use href="#q" x="706.0" y="680.5"/><use href="#q" x="709.4" y="680.5"/><use href="#q" x="709.4" y="680.5"/><use href="#q" x="712.8" y="680.5"/><use href="#q" x="712.8" y="680.5"/><use href="#q" x="716.2" y="680.5"/><use href="#q" x="716.2" y="680.5"/><use href="#q" x="719.6" y="680.5"/><use href="#q" x="719.6" y="680.5"/><use href="#q" x="723.0" y="680.5"/><use href="#q" x="723.0" y="680.5"/><use href="#q" x="726.4" y="680.5"/><use href="#q" x="726.4" y="680.5"/><use href="#q" x="729.8" y="680.5"/><use href="#q" x="729.8" y="680.5"/><use href="#q" x="733.2" y="680.5"/><use href="#q" x="733.2" y="680.5"/><use href="#q" x="736.6" y="680.5"/><use href="#q" x="736.6" y="680.5"/><use href="#q" x="740.0" y="680.5"/><use href="#q" x="740.0" y="680.5"/><use href="#q" x="741.0" y="680.5"/><use href="#q" x="741.0" y="680.5"/><use href="#q" x="741.0" y="680.5"/><use href="#q" x="738.0" y="667.2"/><use href="#q" x="738.0" y="667.2"/><use href="#q" x="741.4" y="667.2"/><use href="#q" x="741.4" y="667.2"/><use href="#q" x="744.8" y="667.2"/><use href="#q" x="744.8" y="667.2"/><use href="#q" x="748.2" y="667.2"/><use href="#q" x="748.2" y="667.2"/><use href="#q" x="751.6" y="667.2"/><use href="#q" x="751.6" y="667.2"/><use href="#q" x="755.0" y="667.2"/><use href="#q" x="755.0" y="667.2"/><use href="#q" x="758.4" y="667.2"/><use href="#q" x="758.4" y="667.2"/><use href="#q" x="761.8" y="667.2"/><use href="#q" x="761.8" y="667.2"/><use href="#q" x="765.0" y="667.2"/><use href="#q" x="765.0" y="667.2"/><use href="#q" x="765.0" y="667.2"/><use href="#q" x="640.0" y="691.6"/><use href="#q" x="640.0" y="691.6"/><use href="#q" x="644.0" y="691.6"/><use href="#q" x="644.0" y="691.6"/><use href="#q" x="648.0" y="691.6"/><use href="#q" x="648.0" y="691.6"/><use href="#q" x="652.0" y="691.6"/><use href="#q" x="652.0" y="691.6"/><use href="#q" x="656.0" y="691.6"/><use href="#q" x="656.0" y="691.6"/><use href="#q" x="660.0" y="691.6"/><use href="#q" x="660.0" y="691.6"/><use href="#q" x="661.4" y="691.6"/><use href="#q" x="661.4" y="691.6"/><use href="#q" x="661.4" y="691.6"/><use href="#q" x="689.0" y="699.1"/><use href="#q" x="689.0" y="699.1"/><use href="#q" x="692.4" y="699.1"/><use href="#q" x="692.4" y="699.1"/><use href="#q" x="695.8" y="699.1"/><use href="#q" x="695.8" y="699.1"/><use href="#q" x="699.2" y="699.1"/><use href="#q" x="699.2" y="699.1"/><use href="#q" x="702.6" y="699.1"/><use href="#q" x="702.6" y="699.1"/><use href="#q" x="706.0" y="699.1"/><use href="#q" x="706.0" y="699.1"/><use href="#q" x="709.4" y="699.1"/><use href="#q" x="709.4" y="699.1"/><use href="#q" x="712.8" y="699.1"/><use href="#q" x="712.8" y="699.1"/><use href="#q" x="716.2" y="699.1"/><use href="#q" x="716.2" y="699.1"/><use href="#q" x="719.6" y="699.1"/><use href="#q" x="719.6" y="699.1"/><use href="#q" x="723.0" y="699.1"/><use href="#q" x="723.0" y="699.1"/><use href="#q" x="726.4" y="699.1"/><use href="#q" x="726.4" y="699.1"/><use href="#q" x="729.8" y="699.1"/><use href="#q" x="729.8" y="699.1"/><use href="#q" x="733.2" y="699.1"/><use href="#q" x="733.2" y="699.1"/><use href="#q" x="736.6" y="699.1"/><use href="#q" x="736.6" y="699.1"/><use href="#q" x="740.0" y="699.1"/><use href="#q" x="740.0" y="699.1"/><use href="#q" x="743.0" y="699.1"/><use href="#q" x="743.0" y="699.1"/><use href="#q" x="743.0" y="699.1"/><use href="#q" x="645.0" y="706.1"/><use href="#q" x="645.0" y="706.1"/><use href="#q" x="650.0" y="706.1"/><use href="#q" x="650.0" y="706.1"/><use href="#q" x="655.0" y="706.1"/><use href="#q" x="655.0" y="706.1"/><use href="#q" x="660.0" y="706.1"/><use href="#q" x="660.0" y="706.1"/><use href="#q" x="660.0" y="706.1"/><use href="#q" x="660.0" y="712.0"/><use href="#q" x="660.0" y="712.0"/><use href="#q" x="663.2" y="714.6"/><use href="#q" x="663.2" y="714.6"/><use href="#q" x="666.4" y="717.2"/><use href="#q" x="666.4" y="717.2"/><use href="#q" x="669.6" y="719.8"/><use href="#q" x="669.6" y="719.8"/><use href="#q" x="672.8" y="722.4"/><use href="#q" x="672.8" y="722.4"/><use href="#q" x="676.0" y="725.0"/><use href="#q" x="676.0" y="725.0"/><use href="#q" x="679.2" y="727.6"/><use href="#q" x="679.2" y="727.6"/><use href="#q" x="682.4" y="730.2"/><use href="#q" x="682.4" y="730.2"/><use href="#q" x="700.3" y="721.2"/><use href="#q" x="700.3" y="721.2"/><use href="#q" x="708.3" y="721.2"/><use href="#q" x="708.3" y="721.2"/><use href="#q" x="716.2" y="721.2"/><use href="#q" x="716.2" y="721.2"/><use href="#q" x="716.2" y="721.2"/><use href="#q" x="637.0" y="729.0"/><use href="#q" x="637.0" y="729.0"/><use href="#q" x="640.4" y="729.0"/><use href="#q" x="640.4" y="729.0"/><use href="#q" x="643.8" y="729.0"/><use href="#q" x="643.8" y="729.0"/><use href="#q" x="647.2" y="729.0"/><use href="#q" x="647.2" y="729.0"/><use href="#q" x="650.6" y="729.0"/><use href="#q" x="650.6" y="729.0"/><use href="#q" x="654.0" y="729.0"/><use href="#q" x="654.0" y="729.0"/><use href="#q" x="657.4" y="729.0"/><use href="#q" x="657.4" y="729.0"/><use href="#q" x="660.8" y="729.0"/><use href="#q" x="660.8" y="729.0"/><use href="#q" x="664.2" y="729.0"/><use href="#q" x="664.2" y="729.0"/><use href="#q" x="667.6" y="729.0"/><use href="#q" x="667.6" y="729.0"/><use href="#q" x="671.0" y="729.0"/><use href="#q" x="671.0" y="729.0"/><use href="#q" x="674.4" y="729.0"/><use href="#q" x="674.4" y="729.0"/><use href="#q" x="677.8" y="729.0"/><use href="#q" x="677.8" y="729.0"/><use href="#q" x="680.2" y="729.0"/><use href="#q" x="680.2" y="729.0"/><use href="#q" x="680.2" y="729.0"/><use href="#q" x="695.6" y="739.7"/><use href="#q" x="618.5" y="756.5"/><use href="#q" x="618.5" y="756.5"/><use href="#q" x="621.9" y="756.5"/><use href="#q" x="621.9" y="756.5"/><use href="#q" x="625.3" y="756.5"/><use href="#q" x="625.3" y="756.5"/><use href="#q" x="628.7" y="756.5"/><use href="#q" x="628.7" y="756.5"/><use href="#q" x="632.1" y="756.5"/><use href="#q" x="632.1" y="756.5"/><use href="#q" x="634.0" y="756.5"/><use href="#q" x="634.0" y="756.5"/><use href="#q" x="634.0" y="756.5"/><use href="#q" x="595.2" y="764.0"/><use href="#q" x="595.2" y="764.0"/><use href="#q" x="595.2" y="764.0"/><use href="#q" x="675.0" y="765.0"/><use href="#q" x="685.8" y="760.6"/><use href="#q" x="640.5" y="779.4"/><use href="#q" x="559.2" y="781.7"/><use href="#q" x="597.8" y="792.7"/><use href="#q" x="597.8" y="792.7"/><use href="#q" x="601.2" y="792.7"/><use href="#q" x="601.2" y="792.7"/><use href="#q" x="604.6" y="792.7"/><use href="#q" x="604.6" y="792.7"/><use href="#q" x="608.0" y="792.7"/><use href="#q" x="608.0" y="792.7"/><use href="#q" x="611.4" y="792.7"/><use href="#q" x="611.4" y="792.7"/><use href="#q" x="614.6" y="792.7"/><use href="#q" x="614.6" y="792.7"/><use href="#q" x="614.6" y="792.7"/><use href="#q" x="552.2" y="799.1"/><use href="#q" x="552.2" y="799.1"/><use href="#q" x="552.2" y="799.1"/><use href="#q" x="540.0" y="809.6"/><use href="#q" x="540.0" y="809.6"/><use href="#q" x="540.0" y="809.6"/><use href="#q" x="591.7" y="809.6"/><use href="#q" x="534.2" y="818.8"/><use href="#q" x="534.2" y="818.8"/><use href="#q" x="534.2" y="818.8"/><use href="#q" x="604.5" y="820.6"/><use href="#q" x="604.5" y="820.6"/><use href="#q" x="607.5" y="820.6"/><use href="#q" x="607.5" y="820.6"/><use href="#q" x="610.5" y="820.6"/><use href="#q" x="610.5" y="820.6"/><use href="#q" x="613.5" y="820.6"/><use href="#q" x="613.5" y="820.6"/><use href="#q" x="616.5" y="820.6"/><use href="#q" x="616.5" y="820.6"/><use href="#q" x="619.5" y="820.6"/><use href="#q" x="619.5" y="820.6"/><use href="#q" x="622.5" y="820.6"/><use href="#q" x="622.5" y="820.6"/><use href="#q" x="625.5" y="820.6"/><use href="#q" x="625.5" y="820.6"/><use href="#q" x="628.5" y="820.6"/><use href="#q" x="628.5" y="820.6"/><use href="#q" x="631.5" y="820.6"/><use href="#q" x="631.5" y="820.6"/><use href="#q" x="634.5" y="820.6"/><use href="#q" x="634.5" y="820.6"/><use href="#q" x="637.5" y="820.6"/><use href="#q" x="637.5" y="820.6"/><use href="#q" x="639.3" y="820.6"/><use href="#q" x="639.3" y="820.6"/><use href="#q" x="639.3" y="820.6"/><use href="#q" x="557.5" y="822.3"/><use href="#q" x="557.5" y="822.3"/><use href="#q" x="557.5" y="822.3"/><use href="#q" x="545.0" y="832.8"/><use href="#q" x="545.0" y="832.8"/><use href="#q" x="548.4" y="832.8"/><use href="#q" x="548.4" y="832.8"/><use href="#q" x="551.8" y="832.8"/><use href="#q" x="551.8" y="832.8"/><use href="#q" x="555.2" y="832.8"/><use href="#q" x="555.2" y="832.8"/><use href="#q" x="558.6" y="832.8"/><use href="#q" x="558.6" y="832.8"/><use href="#q" x="562.0" y="832.8"/><use href="#q" x="562.0" y="832.8"/><use href="#q" x="565.4" y="832.8"/><use href="#q" x="565.4" y="832.8"/><use href="#q" x="568.8" y="832.8"/><use href="#q" x="568.8" y="832.8"/><use href="#q" x="572.2" y="832.8"/><use href="#q" x="572.2" y="832.8"/><use href="#q" x="575.6" y="832.8"/><use href="#q" x="575.6" y="832.8"/><use href="#q" x="579.0" y="832.8"/><use href="#q" x="579.0" y="832.8"/><use href="#q" x="582.4" y="832.8"/><use href="#q" x="582.4" y="832.8"/><use href="#q" x="585.8" y="832.8"/><use href="#q" x="585.8" y="832.8"/><use href="#q" x="589.2" y="832.8"/><use href="#q" x="589.2" y="832.8"/><use href="#q" x="592.6" y="832.8"/><use href="#q" x="592.6" y="832.8"/><use href="#q" x="596.0" y="832.8"/><use href="#q" x="596.0" y="832.8"/><use href="#q" x="599.4" y="832.8"/><use href="#q" x="599.4" y="832.8"/><use href="#q" x="600.6" y="832.8"/><use href="#q" x="600.6" y="832.8"/><use href="#q" x="600.6" y="832.8"/><use href="#q" x="521.5" y="836.3"/><use href="#q" x="521.5" y="836.3"/><use href="#q" x="521.5" y="836.3"/><use href="#q" x="498.0" y="862.0"/><use href="#q" x="498.0" y="864.0"/><use href="#q" x="498.4" y="861.7"/><use href="#q" x="498.5" y="863.8"/><use href="#q" x="498.7" y="861.5"/><use href="#q" x="499.0" y="863.7"/><use href="#q" x="499.1" y="861.2"/><use href="#q" x="499.5" y="863.5"/><use href="#q" x="499.5" y="860.9"/><use href="#q" x="500.0" y="863.3"/><use href="#q" x="499.9" y="860.6"/><use href="#q" x="500.5" y="863.2"/><use href="#q" x="500.2" y="860.4"/><use href="#q" x="501.1" y="863.0"/><use href="#q" x="500.6" y="860.1"/><use href="#q" x="501.6" y="862.8"/><use href="#q" x="501.0" y="859.8"/><use href="#q" x="502.1" y="862.6"/><use href="#q" x="501.4" y="859.6"/><use href="#q" x="502.6" y="862.5"/><use href="#q" x="501.7" y="859.3"/><use href="#q" x="503.1" y="862.3"/><use href="#q" x="502.1" y="859.0"/><use href="#q" x="503.6" y="862.1"/><use href="#q" x="502.5" y="858.7"/><use href="#q" x="504.1" y="862.0"/><use href="#q" x="502.8" y="858.5"/><use href="#q" x="504.6" y="861.8"/><use href="#q" x="503.2" y="858.2"/><use href="#q" x="505.1" y="861.6"/><use href="#q" x="503.6" y="857.9"/><use href="#q" x="505.6" y="861.5"/><use href="#q" x="504.0" y="857.7"/><use href="#q" x="506.1" y="861.3"/><use href="#q" x="504.3" y="857.4"/><use href="#q" x="506.6" y="861.1"/><use href="#q" x="504.7" y="857.1"/><use href="#q" x="507.2" y="860.9"/><use href="#q" x="505.1" y="856.8"/><use href="#q" x="507.7" y="860.8"/><use href="#q" x="505.5" y="856.6"/><use href="#q" x="508.2" y="860.6"/><use href="#q" x="505.8" y="856.3"/><use href="#q" x="508.7" y="860.4"/><use href="#q" x="506.2" y="856.0"/><use href="#q" x="509.2" y="860.3"/><use href="#q" x="506.6" y="855.8"/><use href="#q" x="509.7" y="860.1"/><use href="#q" x="506.9" y="855.5"/><use href="#q" x="510.2" y="859.9"/><use href="#q" x="507.3" y="855.2"/><use href="#q" x="510.7" y="859.8"/><use href="#q" x="507.7" y="854.9"/><use href="#q" x="511.2" y="859.6"/><use href="#q" x="508.1" y="854.7"/><use href="#q" x="511.7" y="859.4"/><use href="#q" x="508.4" y="854.4"/><use href="#q" x="512.2" y="859.3"/><use href="#q" x="508.8" y="854.1"/><use href="#q" x="512.7" y="859.1"/><use href="#q" x="509.2" y="853.9"/><use href="#q" x="513.3" y="858.9"/><use href="#q" x="509.6" y="853.6"/><use href="#q" x="513.8" y="858.7"/><use href="#q" x="509.9" y="853.3"/><use href="#q" x="514.3" y="858.6"/><use href="#q" x="510.3" y="853.1"/><use href="#q" x="514.8" y="858.4"/><use href="#q" x="510.7" y="852.8"/><use href="#q" x="515.3" y="858.2"/><use href="#q" x="511.1" y="852.5"/><use href="#q" x="515.8" y="858.1"/><use href="#q" x="511.4" y="852.2"/><use href="#q" x="516.3" y="857.9"/><use href="#q" x="511.8" y="852.0"/><use href="#q" x="516.8" y="857.7"/><use href="#q" x="512.2" y="851.7"/><use href="#q" x="517.3" y="857.6"/><use href="#q" x="512.5" y="851.4"/><use href="#q" x="517.8" y="857.4"/><use href="#q" x="512.9" y="851.2"/><use href="#q" x="518.3" y="857.2"/><use href="#q" x="513.3" y="850.9"/><use href="#q" x="518.8" y="857.1"/><use href="#q" x="513.7" y="850.6"/><use href="#q" x="519.4" y="856.9"/><use href="#q" x="514.0" y="850.3"/><use href="#q" x="519.9" y="856.7"/><use href="#q" x="514.4" y="850.1"/><use href="#q" x="520.4" y="856.5"/><use href="#q" x="514.8" y="849.8"/><use href="#q" x="520.9" y="856.4"/><use href="#q" x="515.2" y="849.5"/><use href="#q" x="521.4" y="856.2"/><use href="#q" x="515.5" y="849.3"/><use href="#q" x="521.9" y="856.0"/><use href="#q" x="515.9" y="849.0"/><use href="#q" x="522.4" y="855.9"/><use href="#q" x="516.3" y="848.7"/><use href="#q" x="522.9" y="855.7"/><use href="#q" x="516.6" y="848.4"/><use href="#q" x="523.4" y="855.5"/><use href="#q" x="517.0" y="848.2"/><use href="#q" x="523.9" y="855.4"/><use href="#q" x="517.4" y="847.9"/><use href="#q" x="524.4" y="855.2"/><use href="#q" x="517.8" y="847.6"/><use href="#q" x="524.9" y="855.0"/><use href="#q" x="518.1" y="847.4"/><use href="#q" x="525.5" y="854.8"/><use href="#q" x="518.5" y="847.1"/><use href="#q" x="526.0" y="854.7"/><use href="#q" x="518.9" y="846.8"/><use href="#q" x="526.5" y="854.5"/><use href="#q" x="519.3" y="846.5"/><use href="#q" x="527.0" y="854.3"/><use href="#q" x="519.6" y="846.3"/><use href="#q" x="527.5" y="854.2"/><use href="#q" x="520.0" y="846.0"/><use href="#q" x="528.0" y="854.0"/><use href="#q" x="540.0" y="842.6"/><use href="#q" x="540.0" y="842.6"/><use href="#q" x="543.4" y="842.6"/><use href="#q" x="543.4" y="842.6"/><use href="#q" x="546.8" y="842.6"/><use href="#q" x="546.8" y="842.6"/><use href="#q" x="550.2" y="842.6"/><use href="#q" x="550.2" y="842.6"/><use href="#q" x="553.6" y="842.6"/><use href="#q" x="553.6" y="842.6"/><use href="#q" x="557.0" y="842.6"/><use href="#q" x="557.0" y="842.6"/><use href="#q" x="560.4" y="842.6"/><use href="#q" x="560.4" y="842.6"/><use href="#q" x="563.8" y="842.6"/><use href="#q" x="563.8" y="842.6"/><use href="#q" x="567.2" y="842.6"/><use href="#q" x="567.2" y="842.6"/><use href="#q" x="570.6" y="842.6"/><use href="#q" x="570.6" y="842.6"/><use href="#q" x="574.0" y="842.6"/><use href="#q" x="574.0" y="842.6"/><use href="#q" x="577.4" y="842.6"/><use href="#q" x="577.4" y="842.6"/><use href="#q" x="580.8" y="842.6"/><use href="#q" x="580.8" y="842.6"/><use href="#q" x="583.0" y="842.6"/><use href="#q" x="583.0" y="842.6"/><use href="#q" x="583.0" y="842.6"/><use href="#q" x="520.0" y="848.6"/><use href="#q" x="520.0" y="848.6"/><use href="#q" x="523.4" y="848.6"/><use href="#q" x="523.4" y="848.6"/><use href="#q" x="526.8" y="848.6"/><use href="#q" x="526.8" y="848.6"/><use href="#q" x="530.2" y="848.6"/><use href="#q" x="530.2" y="848.6"/><use href="#q" x="533.6" y="848.6"/><use href="#q" x="533.6" y="848.6"/><use href="#q" x="537.0" y="848.6"/><use href="#q" x="537.0" y="848.6"/><use href="#q" x="540.4" y="848.6"/><use href="#q" x="540.4" y="848.6"/><use href="#q" x="543.8" y="848.6"/><use href="#q" x="543.8" y="848.6"/><use href="#q" x="547.2" y="848.6"/><use href="#q" x="547.2" y="848.6"/><use href="#q" x="550.6" y="848.6"/><use href="#q" x="550.6" y="848.6"/><use href="#q" x="554.0" y="848.6"/><use href="#q" x="554.0" y="848.6"/><use href="#q" x="557.4" y="848.6"/><use href="#q" x="557.4" y="848.6"/><use href="#q" x="560.8" y="848.6"/><use href="#q" x="560.8" y="848.6"/><use href="#q" x="564.2" y="848.6"/><use href="#q" x="564.2" y="848.6"/><use href="#q" x="567.6" y="848.6"/><use href="#q" x="567.6" y="848.6"/><use href="#q" x="571.0" y="848.6"/><use href="#q" x="571.0" y="848.6"/><use href="#q" x="574.4" y="848.6"/><use href="#q" x="574.4" y="848.6"/><use href="#q" x="577.8" y="848.6"/><use href="#q" x="577.8" y="848.6"/><use href="#q" x="581.2" y="848.6"/><use href="#q" x="581.2" y="848.6"/><use href="#q" x="583.0" y="848.6"/><use href="#q" x="583.0" y="848.6"/><use href="#q" x="583.0" y="848.6"/><use href="#q" x="500.0" y="854.3"/><use href="#q" x="500.0" y="854.3"/><use href="#q" x="503.4" y="854.3"/><use href="#q" x="503.4" y="854.3"/><use href="#q" x="506.8" y="854.3"/><use href="#q" x="506.8" y="854.3"/><use href="#q" x="510.2" y="854.3"/><use href="#q" x="510.2" y="854.3"/><use href="#q" x="513.6" y="854.3"/><use href="#q" x="513.6" y="854.3"/><use href="#q" x="517.0" y="854.3"/><use href="#q" x="517.0" y="854.3"/><use href="#q" x="520.4" y="854.3"/><use href="#q" x="520.4" y="854.3"/><use href="#q" x="523.8" y="854.3"/><use href="#q" x="523.8" y="854.3"/><use href="#q" x="527.2" y="854.3"/><use href="#q" x="527.2" y="854.3"/><use href="#q" x="530.6" y="854.3"/><use href="#q" x="530.6" y="854.3"/><use href="#q" x="534.0" y="854.3"/><use href="#q" x="534.0" y="854.3"/><use href="#q" x="537.4" y="854.3"/><use href="#q" x="537.4" y="854.3"/><use href="#q" x="540.8" y="854.3"/><use href="#q" x="540.8" y="854.3"/><use href="#q" x="544.2" y="854.3"/><use href="#q" x="544.2" y="854.3"/><use href="#q" x="547.6" y="854.3"/><use href="#q" x="547.6" y="854.3"/><use href="#q" x="551.0" y="854.3"/><use href="#q" x="551.0" y="854.3"/><use href="#q" x="554.4" y="854.3"/><use href="#q" x="554.4" y="854.3"/><use href="#q" x="557.8" y="854.3"/><use href="#q" x="557.8" y="854.3"/><use href="#q" x="558.6" y="854.3"/><use href="#q" x="558.6" y="854.3"/><use href="#q" x="558.6" y="854.3"/><use href="#q" x="500.0" y="860.0"/><use href="#q" x="500.0" y="860.0"/><use href="#q" x="503.4" y="860.0"/><use href="#q" x="503.4" y="860.0"/><use href="#q" x="506.8" y="860.0"/><use href="#q" x="506.8" y="860.0"/><use href="#q" x="510.2" y="860.0"/><use href="#q" x="510.2" y="860.0"/><use href="#q" x="513.6" y="860.0"/><use href="#q" x="513.6" y="860.0"/><use href="#q" x="517.0" y="860.0"/><use href="#q" x="517.0" y="860.0"/><use href="#q" x="520.4" y="860.0"/><use href="#q" x="520.4" y="860.0"/><use href="#q" x="523.8" y="860.0"/><use href="#q" x="523.8" y="860.0"/><use href="#q" x="527.2" y="860.0"/><use href="#q" x="527.2" y="860.0"/><use href="#q" x="527.3" y="860.0"/><use href="#q" x="527.3" y="860.0"/><use href="#q" x="527.3" y="860.0"/><use href="#q" x="786.5" y="667.0"/><use href="#q" x="789.7" y="667.0"/><use href="#q" x="793.0" y="667.0"/><use href="#q" x="796.2" y="667.0"/><use href="#q" x="799.4" y="667.0"/><use href="#q" x="802.7" y="667.0"/><use href="#q" x="805.9" y="667.0"/><use href="#q" x="809.1" y="667.0"/><use href="#q" x="812.4" y="667.0"/><use href="#q" x="815.6" y="667.0"/><use href="#q" x="765.0" y="693.6"/><use href="#q" x="767.0" y="694.6"/><use href="#q" x="788.7" y="693.6"/><use href="#q" x="806.7" y="693.6"/><use href="#q" x="824.6" y="698.3"/><use href="#q" x="828.2" y="698.3"/><use href="#q" x="831.8" y="698.3"/><use href="#q" x="835.4" y="698.3"/><use href="#q" x="839.0" y="698.3"/><use href="#q" x="842.7" y="698.3"/><use href="#q" x="846.3" y="698.3"/><use href="#q" x="849.9" y="698.3"/><use href="#q" x="853.5" y="698.3"/><use href="#q" x="857.1" y="698.3"/><use href="#q" x="800.9" y="719.5"/><use href="#q" x="805.0" y="719.5"/><use href="#q" x="809.1" y="719.5"/><use href="#q" x="813.2" y="719.5"/><use href="#q" x="817.3" y="719.5"/><use href="#q" x="736.4" y="723.6"/><use href="#q" x="757.3" y="723.6"/><use href="#q" x="779.4" y="723.6"/><use href="#q" x="788.7" y="723.6"/><use href="#q" x="724.8" y="741.9"/><use href="#q" x="745.7" y="741.9"/><use href="#q" x="752.0" y="741.9"/><use href="#q" x="755.0" y="741.9"/><use href="#q" x="758.0" y="741.9"/><use href="#q" x="773.6" y="741.9"/><use href="#q" x="710.0" y="760.8"/><use href="#q" x="717.0" y="760.8"/><use href="#q" x="720.0" y="760.8"/><use href="#q" x="723.0" y="760.8"/><use href="#q" x="730.5" y="760.8"/><use href="#q" x="671.5" y="789.4"/><use href="#q" x="674.0" y="789.4"/><use href="#q" x="677.0" y="789.4"/><use href="#q" x="684.0" y="789.4"/><use href="#q" x="628.3" y="828.7"/><use href="#q" x="627.0" y="820.5"/><use href="#q" x="629.1" y="820.5"/><use href="#q" x="631.3" y="820.5"/><use href="#q" x="633.4" y="820.5"/><use href="#q" x="635.6" y="820.5"/><use href="#q" x="637.7" y="820.5"/><use href="#q" x="639.9" y="820.5"/><use href="#q" x="642.0" y="820.5"/><use href="#q" x="644.1" y="820.5"/><use href="#q" x="646.3" y="820.5"/><use href="#q" x="648.4" y="820.5"/><use href="#q" x="650.6" y="820.5"/><use href="#q" x="652.7" y="820.5"/><use href="#q" x="654.9" y="820.5"/><use href="#q" x="657.0" y="820.5"/><use href="#q" x="659.1" y="820.5"/><use href="#q" x="661.3" y="820.5"/><use href="#q" x="663.4" y="820.5"/><use href="#q" x="665.6" y="820.5"/><use href="#q" x="667.7" y="820.5"/><use href="#q" x="669.9" y="820.5"/><use href="#q" x="672.0" y="820.5"/><use href="#q" x="630.0" y="820.5"/><use href="#q" x="639.0" y="820.5"/><use href="#q" x="645.0" y="820.5"/><use href="#q" x="654.0" y="820.5"/><use href="#q" x="660.0" y="820.5"/><use href="#q" x="669.0" y="820.5"/><use href="#q" x="676.5" y="820.5"/><use href="#q" x="681.0" y="820.5"/><use href="#q" x="685.5" y="820.5"/><use href="#q" x="690.0" y="820.5"/>
</g>
<g fill="#2a002a" stroke="#000" stroke-width="2.5">
<use href="#q" x="500.0" y="862.0"/><use href="#q" x="504.0" y="858.5"/><use href="#q" x="508.0" y="855.0"/><use href="#q" x="511.5" y="851.0"/><use href="#q" x="514.0" y="848.0"/><use href="#q" x="503.0" y="853.0"/><use href="#q" x="498.0" y="850.0"/>
</g>
<g class="m" fill="#ffa500" stroke="#000" stroke-width="2.5">
<use href="#q" x="786.5" y="667.0"/><use href="#q" x="789.7" y="667.0"/><use href="#q" x="793.0" y="667.0"/><use href="#q" x="796.2" y="667.0"/><use href="#q" x="799.4" y="667.0"/><use href="#q" x="802.7" y="667.0"/><use href="#q" x="805.9" y="667.0"/><use href="#q" x="809.1" y="667.0"/><use href="#q" x="812.4" y="667.0"/><use href="#q" x="815.6" y="667.0"/><use href="#q" x="765.0" y="693.6"/><use href="#q" x="767.0" y="694.6"/><use href="#q" x="788.7" y="693.6"/><use href="#q" x="806.7" y="693.6"/><use href="#q" x="824.6" y="698.3"/><use href="#q" x="828.2" y="698.3"/><use href="#q" x="831.8" y="698.3"/><use href="#q" x="835.4" y="698.3"/><use href="#q" x="839.0" y="698.3"/><use href="#q" x="842.7" y="698.3"/><use href="#q" x="846.3" y="698.3"/><use href="#q" x="849.9" y="698.3"/><use href="#q" x="853.5" y="698.3"/><use href="#q" x="857.1" y="698.3"/><use href="#q" x="800.9" y="719.5"/><use href="#q" x="805.0" y="719.5"/><use href="#q" x="809.1" y="719.5"/><use href="#q" x="813.2" y="719.5"/><use href="#q" x="817.3" y="719.5"/><use href="#q" x="736.4" y="723.6"/><use href="#q" x="757.3" y="723.6"/><use href="#q" x="779.4" y="723.6"/><use href="#q" x="788.7" y="723.6"/><use href="#q" x="724.8" y="741.9"/><use href="#q" x="745.7" y="741.9"/><use href="#q" x="752.0" y="741.9"/><use href="#q" x="755.0" y="741.9"/><use href="#q" x="758.0" y="741.9"/><use href="#q" x="773.6" y="741.9"/><use href="#q" x="710.0" y="760.8"/><use href="#q" x="717.0" y="760.8"/><use href="#q" x="720.0" y="760.8"/><use href="#q" x="723.0" y="760.8"/><use href="#q" x="730.5" y="760.8"/><use href="#q" x="671.5" y="789.4"/><use href="#q" x="674.0" y="789.4"/><use href="#q" x="677.0" y="789.4"/><use href="#q" x="684.0" y="789.4"/><use href="#q" x="628.3" y="828.7"/><use href="#q" x="627.0" y="820.5"/><use href="#q" x="629.1" y="820.5"/><use href="#q" x="631.3" y="820.5"/><use href="#q" x="633.4" y="820.5"/><use href="#q" x="635.6" y="820.5"/><use href="#q" x="637.7" y="820.5"/><use href="#q" x="639.9" y="820.5"/><use href="#q" x="642.0" y="820.5"/><use href="#q" x="644.1" y="820.5"/><use href="#q" x="646.3" y="820.5"/><use href="#q" x="648.4" y="820.5"/><use href="#q" x="650.6" y="820.5"/><use href="#q" x="652.7" y="820.5"/><use href="#q" x="654.9" y="820.5"/><use href="#q" x="657.0" y="820.5"/><use href="#q" x="659.1" y="820.5"/><use href="#q" x="661.3" y="820.5"/><use href="#q" x="663.4" y="820.5"/><use href="#q" x="665.6" y="820.5"/><use href="#q" x="667.7" y="820.5"/><use href="#q" x="669.9" y="820.5"/><use href="#q" x="672.0" y="820.5"/><use href="#q" x="627.0" y="820.5"/><use href="#q" x="630.0" y="820.5"/><use href="#q" x="633.0" y="820.5"/><use href="#q" x="636.0" y="820.5"/><use href="#q" x="639.0" y="820.5"/><use href="#q" x="642.0" y="820.5"/><use href="#q" x="645.0" y="820.5"/><use href="#q" x="648.0" y="820.5"/><use href="#q" x="651.0" y="820.5"/><use href="#q" x="654.0" y="820.5"/><use href="#q" x="657.0" y="820.5"/><use href="#q" x="660.0" y="820.5"/><use href="#q" x="663.0" y="820.5"/><use href="#q" x="666.0" y="820.5"/><use href="#q" x="669.0" y="820.5"/><use href="#q" x="672.0" y="820.5"/><use href="#q" x="672.0" y="820.5"/><use href="#q" x="676.5" y="820.5"/><use href="#q" x="681.0" y="820.5"/><use href="#q" x="685.5" y="820.5"/><use href="#q" x="690.0" y="820.5"/><use href="#q" x="690.0" y="820.5"/><use href="#q" x="690.0" y="820.5"/>
</g>
<path d="M506.70 879.00L1323.35 35.99" stroke="#000" stroke-width="2.7" stroke-linecap="round" fill="none"/>
</g>
<rect x="506.70" y="12.30" width="839.60" height="866.70" fill="none" stroke="#000" stroke-width="2.8"/>
<path d="M646.63 879.00v-8.90M646.63 12.30v8.90M786.57 879.00v-8.90M786.57 12.30v8.90M926.50 879.00v-8.90M926.50 12.30v8.90M1066.43 879.00v-8.90M1066.43 12.30v8.90M1206.37 879.00v-8.90M1206.37 12.30v8.90M506.70 734.55h8.90M1346.30 734.55h-8.90M506.70 590.10h8.90M1346.30 590.10h-8.90M506.70 445.65h8.90M1346.30 445.65h-8.90M506.70 301.20h8.90M1346.30 301.20h-8.90M506.70 156.75h8.90M1346.30 156.75h-8.90" stroke="#000" stroke-width="1.3" fill="none"/>
<text x="506.70" y="913.20" font-size="32.50" text-anchor="middle">0.00</text>
<text x="497.50" y="888.20" font-size="32.50" text-anchor="end">0.00</text>
<text x="646.63" y="913.20" font-size="32.50" text-anchor="middle">0.05</text>
<text x="497.50" y="743.75" font-size="32.50" text-anchor="end">0.05</text>
<text x="786.57" y="913.20" font-size="32.50" text-anchor="middle">0.10</text>
<text x="497.50" y="599.30" font-size="32.50" text-anchor="end">0.10</text>
<text x="926.50" y="913.20" font-size="32.50" text-anchor="middle">0.15</text>
<text x="497.50" y="454.85" font-size="32.50" text-anchor="end">0.15</text>
<text x="1066.43" y="913.20" font-size="32.50" text-anchor="middle">0.20</text>
<text x="497.50" y="310.40" font-size="32.50" text-anchor="end">0.20</text>
<text x="1206.37" y="913.20" font-size="32.50" text-anchor="middle">0.25</text>
<text x="497.50" y="165.95" font-size="32.50" text-anchor="end">0.25</text>
<text x="1346.30" y="913.20" font-size="32.50" text-anchor="middle">0.30</text>
<text x="497.50" y="21.50" font-size="32.50" text-anchor="end">0.30</text>
<rect x="520.4" y="26.3" width="457.1" height="170.8" fill="#fff" stroke="#000" stroke-width="2.6"/>
<g fill="#f00" stroke="#000" stroke-width="2.5"><use href="#t" x="539.5" y="51.4"/><use href="#t" x="559.2" y="48.9"/><use href="#t" x="578.8" y="52.8"/></g>
<g fill="#00f" stroke="#000" stroke-width="2.5" class="m"><use href="#c2" x="539.5" y="91.6"/><use href="#c2" x="559.2" y="89.0"/><use href="#c2" x="578.8" y="92.8"/></g>
<g fill="#800080" stroke="#000" stroke-width="2.5" class="m"><use href="#q" x="539.5" y="132.6"/><use href="#q" x="559.2" y="130.2"/><use href="#q" x="578.8" y="133.8"/></g>
<g fill="#ffa500" stroke="#000" stroke-width="2.5" class="m"><use href="#q" x="539.5" y="173.4"/><use href="#q" x="559.2" y="171.0"/><use href="#q" x="578.8" y="174.6"/></g>
<text x="609.60" y="58.30" font-size="26.90" textLength="161.30" lengthAdjust="spacingAndGlyphs" stroke="#000" stroke-width="0.6" font-family="'DejaVu Serif','Liberation Serif',serif">Training Set</text>
<text x="609.60" y="98.90" font-size="26.90" textLength="103.80" lengthAdjust="spacingAndGlyphs" stroke="#000" stroke-width="0.6" font-family="'DejaVu Serif','Liberation Serif',serif">Test Set</text>
<text x="609.60" y="139.60" font-size="26.90" textLength="181.00" lengthAdjust="spacingAndGlyphs" stroke="#000" stroke-width="0.6" font-family="'DejaVu Serif','Liberation Serif',serif">Blind Test Set</text>
<text x="609.60" y="180.20" font-size="26.90" textLength="355.50" lengthAdjust="spacingAndGlyphs" stroke="#000" stroke-width="0.6" font-family="'DejaVu Serif','Liberation Serif',serif">10% Worst of Blind Test Set</text>
<text x="746.70" y="957.50" font-size="31.50" textLength="199.30" lengthAdjust="spacingAndGlyphs" stroke="#000" stroke-width="0.8" font-family="'DejaVu Serif','Liberation Serif',serif">True Current</text>
<text transform="translate(959.40 957.10)"><tspan x="-2.00" y="1.00" font-size="37">(</tspan><tspan x="11.20" y="0.00" font-size="33" font-style="italic" textLength="13.00" lengthAdjust="spacingAndGlyphs">I</tspan><tspan x="26.40" y="6.20" font-size="24" textLength="43.20" lengthAdjust="spacingAndGlyphs" stroke="#000" stroke-width="0.6">C/W</tspan><tspan x="72.80" y="-11.40" font-size="23.2" font-style="italic" textLength="59.40" lengthAdjust="spacingAndGlyphs">FEM</tspan><tspan x="133.40" y="1.00" font-size="37">)</tspan></text>
<text x="422.00" y="673.30" font-size="31.50" textLength="259.00" lengthAdjust="spacingAndGlyphs" stroke="#000" stroke-width="0.8" transform="rotate(-90 422.00 673.30)" font-family="'DejaVu Serif','Liberation Serif',serif">Predicted Current</text>
<text transform="translate(421.80 403.10) rotate(-90)"><tspan x="-2.00" y="1.00" font-size="37">(</tspan><tspan x="13.70" y="0.00" font-size="33" font-style="italic" textLength="13.00" lengthAdjust="spacingAndGlyphs">I</tspan><tspan x="28.90" y="6.20" font-size="24" textLength="43.20" lengthAdjust="spacingAndGlyphs" stroke="#000" stroke-width="0.6">C/W</tspan><tspan x="76.80" y="-11.40" font-size="23.2" font-style="italic" textLength="101.50" lengthAdjust="spacingAndGlyphs">AdaBoost</tspan><tspan x="180.00" y="1.00" font-size="37">)</tspan></text>
<text x="883.9" y="1002.8" font-size="48" text-anchor="middle"><tspan font-size="51">(</tspan>a<tspan font-size="51">)</tspan></text>
<clipPath id="cb"><rect x="85.5" y="1081.9" width="686.4" height="435.5"/></clipPath>
<g clip-path="url(#cb)">
<path d="M99.38 1368.16L102.74 1367.26L106.11 1366.53L109.47 1365.98L112.83 1365.61L116.19 1365.43L119.56 1365.43L122.92 1365.62L126.28 1365.99L129.64 1366.54L133.01 1367.27L136.37 1368.18L139.73 1369.27L143.09 1370.52L146.46 1371.94L149.82 1373.52L153.18 1375.26L156.54 1377.15L159.91 1379.17L163.27 1381.34L166.63 1383.63L170.00 1386.04L173.36 1388.57L176.72 1391.20L180.08 1393.93L183.45 1396.74L186.81 1399.64L190.17 1402.60L193.53 1405.62L196.90 1408.70L200.26 1411.82L203.62 1414.97L206.98 1418.16L210.35 1421.35L213.71 1424.56L217.07 1427.77L220.43 1430.98L223.80 1434.17L227.16 1437.34L230.52 1440.48L233.88 1443.59L237.25 1446.66L240.61 1449.68L243.97 1452.65L247.33 1455.57L250.70 1458.43L254.06 1461.22L257.42 1463.95L260.79 1466.60L264.15 1469.18L267.51 1471.69L270.87 1474.12L274.24 1476.47L277.60 1478.74L280.96 1480.92L284.32 1483.03L287.69 1485.05L291.05 1486.99L294.41 1488.85L297.77 1490.63L301.14 1492.32L304.50 1493.94L307.86 1495.48L311.22 1496.94L314.59 1498.33L317.95 1499.65L321.31 1500.89L324.67 1502.07L328.04 1503.18L331.40 1504.22L334.76 1505.20L338.12 1506.12L341.49 1506.99L344.85 1507.80L348.21 1508.55L351.58 1509.25L354.94 1509.91L358.30 1510.52L361.66 1511.09L365.03 1511.61L368.39 1512.09L371.75 1512.54L375.11 1512.95L378.48 1513.32L381.84 1513.67L385.20 1513.98L388.56 1514.27L391.93 1514.52L395.29 1514.75L398.65 1514.96L402.01 1515.14L405.38 1515.30L408.74 1515.44L412.10 1515.55L415.46 1515.65L418.83 1515.72L422.19 1515.78L425.55 1515.81L428.92 1515.83L432.28 1515.82L435.64 1515.80L439.00 1515.75L442.37 1515.68L445.73 1515.59L449.09 1515.48L452.45 1515.35L455.82 1515.19L459.18 1515.00L462.54 1514.78L465.90 1514.54L469.27 1514.26L472.63 1513.95L475.99 1513.60L479.35 1513.21L482.72 1512.77L486.08 1512.30L489.44 1511.77L492.80 1511.19L496.17 1510.56L499.53 1509.86L502.89 1509.10L506.25 1508.28L509.62 1507.38L512.98 1506.40L516.34 1505.34L519.71 1504.19L523.07 1502.94L526.43 1501.60L529.79 1500.15L533.16 1498.59L536.52 1496.92L539.88 1495.12L543.24 1493.19L546.61 1491.13L549.97 1488.92L553.33 1486.57L556.69 1484.06L560.06 1481.39L563.42 1478.56L566.78 1475.55L570.14 1472.37L573.51 1469.00L576.87 1465.44L580.23 1461.69L583.59 1457.73L586.96 1453.58L590.32 1449.22L593.68 1444.65L597.04 1439.87L600.41 1434.87L603.77 1429.66L607.13 1424.23L610.50 1418.58L613.86 1412.72L617.22 1406.65L620.58 1400.36L623.95 1393.87L627.31 1387.18L630.67 1380.29L634.03 1373.22L637.40 1365.96L640.76 1358.53L644.12 1350.93L647.48 1343.18L650.85 1335.30L654.21 1327.29L657.57 1319.16L660.93 1310.94L664.30 1302.64L667.66 1294.28L671.02 1285.87L674.38 1277.44L677.75 1269.00L681.11 1260.57L684.47 1252.18L687.84 1243.85L691.20 1235.60L694.56 1227.45L697.92 1219.43L701.29 1211.56L704.65 1203.86L708.01 1196.36L711.37 1189.07L714.74 1182.03L718.10 1175.25L721.46 1168.76L724.82 1162.57L728.19 1156.71L731.55 1151.20L734.91 1146.06L738.27 1141.30L741.64 1136.94L745.00 1133.00L748.36 1129.49L751.72 1126.41L755.09 1123.80L758.45 1121.64L761.81 1119.96L765.17 1118.75L768.54 1118.03L771.90 1117.79" fill="none" stroke="#ffa500" stroke-width="3.1" stroke-linejoin="round" />
<path d="M161.77 1198.18L164.82 1198.71L167.87 1200.32L170.92 1202.97L173.97 1206.65L177.02 1211.31L180.07 1216.92L183.12 1223.41L186.17 1230.73L189.22 1238.80L192.27 1247.55L195.32 1256.91L198.37 1266.78L201.43 1277.09L204.48 1287.75L207.53 1298.67L210.58 1309.77L213.63 1320.97L216.68 1332.19L219.73 1343.35L222.78 1354.39L225.83 1365.24L228.88 1375.84L231.93 1386.15L234.98 1396.11L238.03 1405.69L241.08 1414.85L244.13 1423.58L247.19 1431.85L250.24 1439.64L253.29 1446.95L256.34 1453.79L259.39 1460.14L262.44 1466.01L265.49 1471.42L268.54 1476.37L271.59 1480.89L274.64 1484.99L277.69 1488.68L280.74 1491.98L283.79 1494.92L286.84 1497.51L289.89 1499.76L292.95 1501.71L296.00 1503.36L299.05 1504.72L302.10 1505.81L305.15 1506.65L308.20 1507.23L311.25 1507.56L314.30 1507.65L317.35 1507.50L320.40 1507.10L323.45 1506.46L326.50 1505.56L329.55 1504.39L332.60 1502.95L335.65 1501.22L338.71 1499.18L341.76 1496.82L344.81 1494.12L347.86 1491.06L350.91 1487.63L353.96 1483.79L357.01 1479.53L360.06 1474.84L363.11 1469.69L366.16 1464.07L369.21 1457.97L372.26 1451.38L375.31 1444.29L378.36 1436.70L381.41 1428.60L384.47 1420.02L387.52 1410.97L390.57 1401.45L393.62 1391.51L396.67 1381.17L399.72 1370.48L402.77 1359.47L405.82 1348.21L408.87 1336.75L411.92 1325.17L414.97 1313.52L418.02 1301.90L421.07 1290.38L424.12 1279.04L427.17 1267.98L430.23 1257.28L433.28 1247.03L436.33 1237.32L439.38 1228.23L442.43 1219.85L445.48 1212.26L448.53 1205.52L451.58 1199.70L454.63 1194.86L457.68 1191.04L460.73 1188.29L463.78 1186.63L466.83 1186.07L469.88 1186.63L472.93 1188.29L475.99 1191.04L479.04 1194.86L482.09 1199.70L485.14 1205.52L488.19 1212.26L491.24 1219.85L494.29 1228.23L497.34 1237.32L500.39 1247.03L503.44 1257.28L506.49 1267.98L509.54 1279.04L512.59 1290.38L515.64 1301.90L518.69 1313.52L521.75 1325.17L524.80 1336.75L527.85 1348.21L530.90 1359.47L533.95 1370.47L537.00 1381.17L540.05 1391.51L543.10 1401.45L546.15 1410.96L549.20 1420.02L552.25 1428.60L555.30 1436.69L558.35 1444.28L561.40 1451.37L564.45 1457.96L567.51 1464.06L570.56 1469.67L573.61 1474.81L576.66 1479.50L579.71 1483.74L582.76 1487.57L585.81 1490.99L588.86 1494.04L591.91 1496.72L594.96 1499.06L598.01 1501.07L601.06 1502.77L604.11 1504.17L607.16 1505.29L610.21 1506.14L613.27 1506.72L616.32 1507.05L619.37 1507.12L622.42 1506.93L625.47 1506.48L628.52 1505.77L631.57 1504.79L634.62 1503.53L637.67 1501.98L640.72 1500.11L643.77 1497.92L646.82 1495.39L649.87 1492.49L652.92 1489.21L655.97 1485.52L659.03 1481.41L662.08 1476.85L665.13 1471.82L668.18 1466.30L671.23 1460.28L674.28 1453.74L677.33 1446.68L680.38 1439.08L683.43 1430.95L686.48 1422.28L689.53 1413.09L692.58 1403.39L695.63 1393.19L698.68 1382.54L701.73 1371.47L704.79 1360.01L707.84 1348.22L710.89 1336.16L713.94 1323.88L716.99 1311.47L720.04 1299.00L723.09 1286.55L726.14 1274.21L729.19 1262.06L732.24 1250.21L735.29 1238.75L738.34 1227.77L741.39 1217.37L744.44 1207.63L747.49 1198.66L750.55 1190.52L753.60 1183.30L756.65 1177.07L759.70 1171.88L762.75 1167.79L765.80 1164.85L768.85 1163.06L771.90 1162.47" fill="none" stroke="#ff0000" stroke-width="3.1" stroke-linejoin="round" />
</g>
<rect x="85.50" y="1081.90" width="686.40" height="435.50" fill="none" stroke="#000" stroke-width="2.8"/>
<path d="M161.77 1517.40v-10.90M161.77 1081.90v10.90M238.03 1517.40v-10.90M238.03 1081.90v10.90M314.30 1517.40v-10.90M314.30 1081.90v10.90M390.57 1517.40v-10.90M390.57 1081.90v10.90M466.83 1517.40v-10.90M466.83 1081.90v10.90M543.10 1517.40v-10.90M543.10 1081.90v10.90M619.37 1517.40v-10.90M619.37 1081.90v10.90M695.63 1517.40v-10.90M695.63 1081.90v10.90M85.50 1430.30h10.90M771.90 1430.30h-10.90M85.50 1343.20h10.90M771.90 1343.20h-10.90M85.50 1256.10h10.90M771.90 1256.10h-10.90M85.50 1169.00h10.90M771.90 1169.00h-10.90" stroke="#000" stroke-width="2.5" fill="none"/>
<text x="85.50" y="1548.40" font-size="30.50" text-anchor="middle">0.5</text>
<text x="161.77" y="1548.40" font-size="30.50" text-anchor="middle">1.0</text>
<text x="238.03" y="1548.40" font-size="30.50" text-anchor="middle">1.5</text>
<text x="314.30" y="1548.40" font-size="30.50" text-anchor="middle">2.0</text>
<text x="390.57" y="1548.40" font-size="30.50" text-anchor="middle">2.5</text>
<text x="466.83" y="1548.40" font-size="30.50" text-anchor="middle">3.0</text>
<text x="543.10" y="1548.40" font-size="30.50" text-anchor="middle">3.5</text>
<text x="619.37" y="1548.40" font-size="30.50" text-anchor="middle">4.0</text>
<text x="695.63" y="1548.40" font-size="30.50" text-anchor="middle">4.5</text>
<text x="771.90" y="1548.40" font-size="30.50" text-anchor="middle">5.0</text>
<text x="77.60" y="1526.60" font-size="30.50" text-anchor="end">0.0</text>
<text x="77.60" y="1439.50" font-size="30.50" text-anchor="end">0.1</text>
<text x="77.60" y="1352.40" font-size="30.50" text-anchor="end">0.2</text>
<text x="77.60" y="1265.30" font-size="30.50" text-anchor="end">0.3</text>
<text x="77.60" y="1178.20" font-size="30.50" text-anchor="end">0.4</text>
<text x="77.60" y="1091.10" font-size="30.50" text-anchor="end">0.5</text>
<text x="380.70" y="1587.00" font-size="31.50" stroke="#000" stroke-width="0.8" font-family="'DejaVu Serif','Liberation Serif',serif">Cl<tspan dy="-12" font-size="20">-</tspan><tspan dy="12">[M]</tspan></text>
<text x="24.50" y="1447.10" font-size="31.50" textLength="295.00" lengthAdjust="spacingAndGlyphs" stroke="#000" stroke-width="0.8" transform="rotate(-90 24.50 1447.10)" font-family="'DejaVu Serif','Liberation Serif',serif">Probability Density</text>
<rect x="96" y="1093" width="473.8" height="71.2" fill="#fff" stroke="#000" stroke-width="2.3"/>
<path d="M110.5 1110.5H143.8" stroke="#ffa500" stroke-width="3.1"/>
<path d="M110.5 1143.3H143.8" stroke="#ff0000" stroke-width="3.1"/>
<text x="167.00" y="1118.20" font-size="21.60" textLength="392.50" lengthAdjust="spacingAndGlyphs" stroke="#000" stroke-width="0.6" font-family="'DejaVu Serif','Liberation Serif',serif">10% Worst of Blind Test Set Cl<tspan dy="-8" font-size="15">-</tspan><tspan dy="8"> Values</tspan></text>
<text x="167.20" y="1151.10" font-size="21.60" textLength="165.00" lengthAdjust="spacingAndGlyphs" stroke="#000" stroke-width="0.6" font-family="'DejaVu Serif','Liberation Serif',serif">Train Cl<tspan dy="-8" font-size="15">-</tspan><tspan dy="8"> Values</tspan></text>
<text x="432.2" y="1641.5" font-size="48" text-anchor="middle"><tspan font-size="51">(</tspan>b<tspan font-size="51">)</tspan></text>
<clipPath id="cc"><rect x="1107.8" y="1101.5" width="685.4000000000001" height="435.4000000000001"/></clipPath>
<g clip-path="url(#cc)">
<path d="M1531.48 1381.50L1533.26 1380.82L1535.61 1379.92L1538.41 1378.84L1541.53 1377.65L1544.84 1376.39L1548.23 1375.12L1551.55 1373.89L1554.69 1372.76L1557.82 1371.68L1561.10 1370.56L1564.47 1369.43L1567.84 1368.32L1571.13 1367.25L1574.25 1366.24L1577.12 1365.33L1579.65 1364.53L1581.81 1363.85L1583.65 1363.28L1585.24 1362.79L1586.67 1362.38L1588.00 1362.01L1589.30 1361.67L1590.65 1361.36L1592.13 1361.03L1593.71 1360.72L1595.31 1360.42L1596.92 1360.15L1598.52 1359.91L1600.11 1359.70L1601.66 1359.53L1603.17 1359.39L1604.61 1359.29L1605.97 1359.23L1607.28 1359.20L1608.53 1359.21L1609.75 1359.26L1610.96 1359.34L1612.15 1359.45L1613.36 1359.60L1614.59 1359.79L1615.84 1360.00L1617.09 1360.24L1618.33 1360.52L1619.58 1360.83L1620.83 1361.18L1622.08 1361.58L1623.32 1362.03L1624.57 1362.53L1625.82 1363.09L1627.07 1363.69L1628.32 1364.33L1629.56 1365.03L1630.81 1365.77L1632.06 1366.56L1633.31 1367.39L1634.55 1368.27L1635.80 1369.20L1637.05 1370.19L1638.30 1371.22L1639.55 1372.30L1640.79 1373.42L1642.04 1374.58L1643.29 1375.77L1644.54 1377.01L1645.78 1378.27L1647.03 1379.55L1648.28 1380.87L1649.53 1382.23L1650.78 1383.64L1652.02 1385.11L1653.27 1386.64L1654.52 1388.24L1655.77 1389.91L1657.02 1391.66L1658.26 1393.47L1659.51 1395.33L1660.76 1397.25L1662.01 1399.20L1663.25 1401.19L1664.50 1403.21L1665.75 1405.27L1667.00 1407.40L1668.25 1409.58L1669.49 1411.79L1670.74 1414.02L1671.99 1416.25L1673.24 1418.48L1674.48 1420.68L1675.73 1422.89L1676.98 1425.14L1678.23 1427.40L1679.48 1429.65L1680.72 1431.87L1681.97 1434.05L1683.22 1436.14L1684.47 1438.15L1685.71 1440.07L1686.96 1441.93L1688.21 1443.74L1689.46 1445.48L1690.71 1447.17L1691.95 1448.79L1693.20 1450.36L1694.45 1451.88L1695.70 1453.32L1696.95 1454.69L1698.19 1456.00L1699.44 1457.26L1700.69 1458.46L1701.94 1459.63L1703.18 1460.76L1704.43 1461.86L1705.68 1462.93L1706.93 1463.98L1708.18 1464.98L1709.42 1465.94L1710.67 1466.87L1711.92 1467.74L1713.17 1468.57L1714.41 1469.34L1715.66 1470.07L1716.91 1470.74L1718.16 1471.37L1719.41 1471.95L1720.65 1472.49L1721.90 1472.98L1723.15 1473.43L1724.40 1473.84L1725.66 1474.19L1726.95 1474.48L1728.25 1474.72L1729.54 1474.91L1730.82 1475.09L1732.06 1475.25L1733.25 1475.41L1734.38 1475.58L1735.44 1475.74L1736.43 1475.84L1737.37 1475.92L1738.28 1476.01L1739.17 1476.11L1740.05 1476.27L1740.95 1476.50L1741.87 1476.83L1742.80 1477.27L1743.74 1477.79L1744.67 1478.37L1745.61 1479.02L1746.55 1479.70L1747.48 1480.40L1748.42 1481.11L1749.35 1481.82L1750.27 1482.58L1751.17 1483.42L1752.05 1484.31L1752.94 1485.21L1753.85 1486.07L1754.79 1486.86L1755.79 1487.54L1756.84 1488.06L1757.99 1488.40L1759.22 1488.58L1760.51 1488.65L1761.83 1488.64L1763.15 1488.61L1764.44 1488.59L1765.68 1488.65L1766.82 1488.81L1767.88 1489.09L1768.87 1489.46L1769.81 1489.88L1770.72 1490.32L1771.61 1490.77L1772.50 1491.18L1773.39 1491.54L1774.31 1491.81L1775.26 1491.97L1776.24 1492.06L1777.23 1492.09L1778.21 1492.09L1779.17 1492.08L1780.10 1492.10L1780.98 1492.16L1781.80 1492.30L1782.57 1492.54L1783.34 1492.85L1784.07 1493.20L1784.76 1493.58L1785.39 1493.96L1785.95 1494.31L1786.42 1494.59L1786.79 1494.80" fill="none" stroke="#ffa500" stroke-width="3.1" stroke-linejoin="round" />
<path d="M1107.80 1135.70L1279.20 1133.60L1401.00 1132.00L1401.16 1131.99L1401.22 1131.98L1401.27 1131.97L1401.42 1131.95L1401.76 1131.94L1402.40 1131.93L1403.43 1131.93L1404.96 1131.94L1407.11 1131.94L1409.84 1131.95L1413.00 1131.95L1416.43 1131.96L1420.00 1131.99L1423.53 1132.03L1426.89 1132.09L1429.91 1132.18L1432.68 1132.30L1435.37 1132.43L1437.98 1132.58L1440.52 1132.75L1442.98 1132.94L1445.35 1133.16L1447.66 1133.40L1449.88 1133.68L1451.99 1133.99L1453.97 1134.32L1455.86 1134.67L1457.68 1135.05L1459.46 1135.47L1461.23 1135.92L1463.01 1136.40L1464.85 1136.93L1466.74 1137.49L1468.65 1138.09L1470.58 1138.73L1472.49 1139.41L1474.39 1140.11L1476.26 1140.85L1478.07 1141.62L1479.83 1142.42L1481.50 1143.24L1483.12 1144.10L1484.69 1144.99L1486.22 1145.91L1487.73 1146.86L1489.24 1147.85L1490.76 1148.86L1492.30 1149.90L1493.86 1150.97L1495.42 1152.04L1496.98 1153.14L1498.54 1154.27L1500.10 1155.45L1501.66 1156.69L1503.22 1158.00L1504.78 1159.39L1506.34 1160.85L1507.90 1162.36L1509.46 1163.94L1511.02 1165.58L1512.58 1167.29L1514.14 1169.07L1515.70 1170.92L1517.26 1172.86L1518.82 1174.88L1520.38 1176.96L1521.94 1179.11L1523.50 1181.33L1525.06 1183.64L1526.62 1186.03L1528.18 1188.51L1529.74 1191.08L1531.30 1193.72L1532.86 1196.42L1534.42 1199.19L1535.98 1202.05L1537.54 1205.02L1539.10 1208.12L1540.66 1211.37L1542.22 1214.79L1543.78 1218.39L1545.34 1222.17L1546.90 1226.10L1548.46 1230.15L1550.01 1234.32L1551.57 1238.57L1553.13 1242.88L1554.69 1247.23L1556.25 1251.66L1557.81 1256.18L1559.37 1260.80L1560.93 1265.48L1562.49 1270.23L1564.05 1275.02L1565.61 1279.84L1567.17 1284.67L1568.73 1289.55L1570.29 1294.50L1571.85 1299.51L1573.41 1304.56L1574.97 1309.61L1576.53 1314.64L1578.09 1319.65L1579.65 1324.60L1581.24 1329.61L1582.89 1334.77L1584.55 1339.96L1586.20 1345.11L1587.82 1350.11L1589.36 1354.87L1590.81 1359.29L1592.13 1363.28L1593.30 1366.80L1594.35 1369.93L1595.30 1372.73L1596.18 1375.29L1597.03 1377.67L1597.86 1379.95L1598.71 1382.20L1599.62 1384.49L1600.55 1386.79L1601.49 1389.02L1602.42 1391.16L1603.36 1393.23L1604.29 1395.22L1605.23 1397.13L1606.17 1398.96L1607.10 1400.71L1608.04 1402.39L1608.97 1403.99L1609.91 1405.51L1610.85 1406.95L1611.78 1408.32L1612.72 1409.61L1613.65 1410.81L1614.59 1411.95L1615.53 1412.99L1616.46 1413.94L1617.40 1414.82L1618.33 1415.61L1619.27 1416.34L1620.20 1417.00L1621.14 1417.62L1622.08 1418.18L1623.00 1418.69L1623.89 1419.11L1624.77 1419.47L1625.66 1419.78L1626.57 1420.04L1627.52 1420.27L1628.51 1420.48L1629.56 1420.68L1630.66 1420.86L1631.77 1421.01L1632.90 1421.13L1634.09 1421.23L1635.33 1421.30L1636.64 1421.35L1638.04 1421.39L1639.55 1421.43L1641.11 1421.44L1642.70 1421.41L1644.36 1421.36L1646.10 1421.30L1647.95 1421.24L1649.96 1421.19L1652.14 1421.17L1654.52 1421.18L1657.16 1421.23L1660.06 1421.31L1663.15 1421.42L1666.37 1421.54L1669.68 1421.66L1673.00 1421.77L1676.29 1421.86L1679.48 1421.93L1682.66 1421.97L1685.95 1421.99L1689.27 1421.99L1692.58 1421.99L1695.80 1421.98L1698.90 1421.96L1701.79 1421.94L1704.43 1421.93L1706.83 1421.90L1709.05 1421.84L1711.11 1421.78L1713.01 1421.71L1714.78 1421.65L1716.42 1421.62L1717.96 1421.63L1719.41 1421.68L1720.72 1421.76L1721.86 1421.85L1722.87 1421.96L1723.77 1422.10L1724.60 1422.28L1725.37 1422.51L1726.13 1422.81L1726.89 1423.18L1727.64 1423.58L1728.35 1424.00L1729.00 1424.46L1729.62 1424.99L1730.21 1425.59L1730.78 1426.31L1731.34 1427.16L1731.88 1428.17L1732.42 1429.36L1732.94 1430.73L1733.43 1432.24L1733.91 1433.86L1734.37 1435.55L1734.81 1437.26L1735.23 1438.97L1735.63 1440.65L1736.00 1442.28L1736.34 1443.90L1736.65 1445.54L1736.95 1447.20L1737.24 1448.89L1737.53 1450.65L1737.82 1452.47L1738.12 1454.37L1738.44 1456.43L1738.78 1458.65L1739.11 1460.98L1739.45 1463.34L1739.77 1465.67L1740.08 1467.91L1740.37 1469.99L1740.62 1471.84L1740.84 1473.51L1741.05 1475.10L1741.23 1476.57L1741.40 1477.92L1741.55 1479.14L1741.67 1480.20L1741.78 1481.10L1741.87 1481.82" fill="none" stroke="#ff0000" stroke-width="3.1" stroke-linejoin="round" />
</g>
<rect x="1107.80" y="1101.50" width="685.40" height="435.40" fill="none" stroke="#000" stroke-width="2.8"/>
<path d="M1279.15 1536.90v-10.90M1279.15 1101.50v10.90M1450.50 1536.90v-10.90M1450.50 1101.50v10.90M1621.85 1536.90v-10.90M1621.85 1101.50v10.90M1107.80 1449.82h10.90M1793.20 1449.82h-10.90M1107.80 1362.74h10.90M1793.20 1362.74h-10.90M1107.80 1275.66h10.90M1793.20 1275.66h-10.90M1107.80 1188.58h10.90M1793.20 1188.58h-10.90" stroke="#000" stroke-width="2.5" fill="none"/>
<path d="M1159.38 1536.90v-7.30M1159.38 1101.50v7.30M1189.55 1536.90v-7.30M1189.55 1101.50v7.30M1210.96 1536.90v-7.30M1210.96 1101.50v7.30M1227.57 1536.90v-7.30M1227.57 1101.50v7.30M1241.14 1536.90v-7.30M1241.14 1101.50v7.30M1252.61 1536.90v-7.30M1252.61 1101.50v7.30M1262.54 1536.90v-7.30M1262.54 1101.50v7.30M1271.31 1536.90v-7.30M1271.31 1101.50v7.30M1330.73 1536.90v-7.30M1330.73 1101.50v7.30M1360.90 1536.90v-7.30M1360.90 1101.50v7.30M1382.31 1536.90v-7.30M1382.31 1101.50v7.30M1398.92 1536.90v-7.30M1398.92 1101.50v7.30M1412.49 1536.90v-7.30M1412.49 1101.50v7.30M1423.96 1536.90v-7.30M1423.96 1101.50v7.30M1433.89 1536.90v-7.30M1433.89 1101.50v7.30M1442.66 1536.90v-7.30M1442.66 1101.50v7.30M1502.08 1536.90v-7.30M1502.08 1101.50v7.30M1532.25 1536.90v-7.30M1532.25 1101.50v7.30M1553.66 1536.90v-7.30M1553.66 1101.50v7.30M1570.27 1536.90v-7.30M1570.27 1101.50v7.30M1583.84 1536.90v-7.30M1583.84 1101.50v7.30M1595.31 1536.90v-7.30M1595.31 1101.50v7.30M1605.24 1536.90v-7.30M1605.24 1101.50v7.30M1614.01 1536.90v-7.30M1614.01 1101.50v7.30M1673.43 1536.90v-7.30M1673.43 1101.50v7.30M1703.60 1536.90v-7.30M1703.60 1101.50v7.30M1725.01 1536.90v-7.30M1725.01 1101.50v7.30M1741.62 1536.90v-7.30M1741.62 1101.50v7.30M1755.19 1536.90v-7.30M1755.19 1101.50v7.30M1766.66 1536.90v-7.30M1766.66 1101.50v7.30M1776.59 1536.90v-7.30M1776.59 1101.50v7.30M1785.36 1536.90v-7.30M1785.36 1101.50v7.30" stroke="#000" stroke-width="2.5" fill="none"/>
<text><tspan x="1080.20" y="1567.20" font-size="30.5">10</tspan><tspan x="1110.20" y="1558.70" font-size="27" textLength="14.50" lengthAdjust="spacingAndGlyphs">−</tspan><tspan x="1125.40" y="1556.70" font-size="21.6">5</tspan></text>
<text><tspan x="1251.55" y="1567.20" font-size="30.5">10</tspan><tspan x="1281.55" y="1558.70" font-size="27" textLength="14.50" lengthAdjust="spacingAndGlyphs">−</tspan><tspan x="1296.75" y="1556.70" font-size="21.6">4</tspan></text>
<text><tspan x="1422.90" y="1567.20" font-size="30.5">10</tspan><tspan x="1452.90" y="1558.70" font-size="27" textLength="14.50" lengthAdjust="spacingAndGlyphs">−</tspan><tspan x="1468.10" y="1556.70" font-size="21.6">3</tspan></text>
<text><tspan x="1594.25" y="1567.20" font-size="30.5">10</tspan><tspan x="1624.25" y="1558.70" font-size="27" textLength="14.50" lengthAdjust="spacingAndGlyphs">−</tspan><tspan x="1639.45" y="1556.70" font-size="21.6">2</tspan></text>
<text><tspan x="1765.60" y="1567.20" font-size="30.5">10</tspan><tspan x="1795.60" y="1558.70" font-size="27" textLength="14.50" lengthAdjust="spacingAndGlyphs">−</tspan><tspan x="1810.80" y="1556.70" font-size="21.6">1</tspan></text>
<text x="1100.40" y="1545.90" font-size="30.50" text-anchor="end">0</text>
<text x="1100.40" y="1458.82" font-size="30.50" text-anchor="end">10</text>
<text x="1100.40" y="1371.74" font-size="30.50" text-anchor="end">20</text>
<text x="1100.40" y="1284.66" font-size="30.50" text-anchor="end">30</text>
<text x="1100.40" y="1197.58" font-size="30.50" text-anchor="end">40</text>
<text x="1100.40" y="1110.50" font-size="30.50" text-anchor="end">50</text>
<text><tspan x="1393.60" y="1606.00" font-size="31.5" font-family="'DejaVu Serif','Liberation Serif',serif" textLength="54.00" lengthAdjust="spacingAndGlyphs" stroke="#000" stroke-width="1.1">WL</tspan><tspan x="1455.90" y="1606.00" font-size="34">[</tspan><tspan x="1465.40" y="1606.00" font-size="33" font-style="italic" textLength="27.50" lengthAdjust="spacingAndGlyphs">m</tspan><tspan x="1491.90" y="1606.00" font-size="34">]</tspan></text>
<text x="1056.50" y="1467.70" font-size="31.50" textLength="295.00" lengthAdjust="spacingAndGlyphs" stroke="#000" stroke-width="0.8" transform="rotate(-90 1056.50 1467.70)" font-family="'DejaVu Serif','Liberation Serif',serif">Probability Density</text>
<rect x="1118.8" y="1454.4" width="480.2" height="71.2" fill="#fff" stroke="#000" stroke-width="2.3"/>
<path d="M1133 1472.4H1166.4" stroke="#ffa500" stroke-width="3.1"/>
<path d="M1133 1505.1H1166.4" stroke="#ff0000" stroke-width="3.1"/>
<text x="1188.00" y="1479.70" font-size="21.60" textLength="400.50" lengthAdjust="spacingAndGlyphs" stroke="#000" stroke-width="0.6" font-family="'DejaVu Serif','Liberation Serif',serif">10% Worst of Blind Test Set WL Values</text>
<text x="1188.00" y="1513.00" font-size="21.60" textLength="174.00" lengthAdjust="spacingAndGlyphs" stroke="#000" stroke-width="0.6" font-family="'DejaVu Serif','Liberation Serif',serif">Train WL Values</text>
<text x="1433.4" y="1660.5" font-size="48" text-anchor="middle"><tspan font-size="51">(</tspan>c<tspan font-size="51">)</tspan></text>
<clipPath id="cd"><rect x="584.7" y="1706.4" width="686.5999999999999" height="433.4000000000001"/></clipPath>
<g clip-path="url(#cd)">
<path d="M730.70 2093.45L731.31 2093.05L732.11 2092.52L733.07 2091.90L734.14 2091.20L735.28 2090.46L736.43 2089.70L737.57 2088.95L738.63 2088.23L739.64 2087.53L740.64 2086.82L741.64 2086.09L742.65 2085.36L743.68 2084.62L744.74 2083.87L745.83 2083.13L746.98 2082.38L748.18 2081.63L749.44 2080.87L750.74 2080.09L752.07 2079.32L753.41 2078.55L754.76 2077.79L756.10 2077.05L757.42 2076.33L758.72 2075.63L760.03 2074.93L761.33 2074.25L762.63 2073.58L763.94 2072.93L765.24 2072.29L766.55 2071.69L767.85 2071.11L769.16 2070.56L770.46 2070.04L771.77 2069.54L773.07 2069.06L774.37 2068.61L775.68 2068.17L776.98 2067.76L778.29 2067.36L779.59 2066.98L780.90 2066.62L782.20 2066.28L783.51 2065.96L784.81 2065.66L786.12 2065.37L787.42 2065.11L788.72 2064.85L790.00 2064.61L791.24 2064.39L792.45 2064.18L793.68 2063.99L794.94 2063.82L796.26 2063.66L797.66 2063.52L799.16 2063.39L800.77 2063.28L802.47 2063.20L804.24 2063.14L806.07 2063.09L807.96 2063.05L809.87 2063.02L811.82 2063.00L813.77 2062.97L815.77 2062.95L817.85 2062.94L819.97 2062.94L822.12 2062.95L824.27 2062.95L826.39 2062.96L828.47 2062.97L830.47 2062.97L832.41 2062.97L834.33 2062.98L836.22 2062.99L838.07 2063.00L839.89 2063.00L841.67 2063.00L843.40 2062.99L845.08 2062.97L846.73 2062.95L848.37 2062.91L849.97 2062.87L851.52 2062.82L853.02 2062.77L854.44 2062.72L855.77 2062.66L857.00 2062.60L858.05 2062.55L858.91 2062.51L859.64 2062.48L860.32 2062.44L861.01 2062.38L861.79 2062.30L862.73 2062.17L863.90 2062.00L865.33 2061.78L866.99 2061.52L868.79 2061.22L870.68 2060.90L872.60 2060.55L874.49 2060.18L876.27 2059.80L877.90 2059.40L879.37 2059.00L880.75 2058.59L882.06 2058.17L883.33 2057.73L884.56 2057.26L885.78 2056.75L887.02 2056.20L888.30 2055.60L889.62 2054.93L890.98 2054.20L892.35 2053.42L893.71 2052.60L895.05 2051.77L896.34 2050.93L897.56 2050.10L898.70 2049.30L899.74 2048.54L900.69 2047.79L901.57 2047.06L902.41 2046.33L903.22 2045.58L904.03 2044.80L904.85 2043.98L905.70 2043.10L906.58 2042.17L907.45 2041.22L908.33 2040.23L909.21 2039.21L910.08 2038.14L910.96 2037.04L911.83 2035.89L912.70 2034.70L913.57 2033.46L914.43 2032.18L915.29 2030.86L916.15 2029.50L917.01 2028.09L917.87 2026.64L918.73 2025.14L919.60 2023.60L920.49 2021.95L921.42 2020.19L922.37 2018.34L923.31 2016.47L924.23 2014.61L925.09 2012.82L925.89 2011.13L926.60 2009.60L927.20 2008.24L927.72 2007.02L928.17 2005.89L928.57 2004.84L928.94 2003.81L929.31 2002.79L929.69 2001.73L930.10 2000.60L930.54 1999.42L930.98 1998.22L931.42 1997.01L931.86 1995.79L932.29 1994.55L932.73 1993.31L933.17 1992.06L933.60 1990.80L934.03 1989.53L934.45 1988.26L934.88 1986.98L935.30 1985.69L935.72 1984.38L936.15 1983.07L936.57 1981.74L937.00 1980.40L937.43 1979.04L937.87 1977.65L938.31 1976.25L938.74 1974.84L939.18 1973.43L939.62 1972.01L940.06 1970.60L940.50 1969.20L940.93 1967.83L941.35 1966.50L941.77 1965.18L942.19 1963.86L942.61 1962.51L943.05 1961.12L943.51 1959.65L944.00 1958.10L944.51 1956.49L945.03 1954.87L945.57 1953.20L946.12 1951.47L946.69 1949.66L947.28 1947.74L947.88 1945.70L948.50 1943.50L949.13 1941.13L949.76 1938.58L950.40 1935.90L951.07 1933.11L951.75 1930.26L952.47 1927.38L953.23 1924.50L954.04 1921.66L954.89 1918.85L955.79 1916.04L956.72 1913.22L957.69 1910.37L958.68 1907.48L959.70 1904.55L960.72 1901.56L961.76 1898.50L962.81 1895.32L963.88 1892.01L964.98 1888.62L966.10 1885.20L967.22 1881.78L968.35 1878.42L969.47 1875.15L970.58 1872.03L971.68 1869.04L972.78 1866.11L973.89 1863.25L974.99 1860.45L976.09 1857.73L977.19 1855.08L978.30 1852.49L979.40 1849.98L980.50 1847.52L981.61 1845.13L982.71 1842.80L983.81 1840.54L984.91 1838.35L986.02 1836.25L987.12 1834.25L988.22 1832.33L989.33 1830.53L990.43 1828.84L991.53 1827.24L992.63 1825.72L993.74 1824.27L994.84 1822.87L995.94 1821.52L997.04 1820.20L998.15 1818.92L999.25 1817.68L1000.35 1816.49L1001.46 1815.35L1002.56 1814.27L1003.66 1813.25L1004.76 1812.28L1005.87 1811.38L1006.97 1810.55L1008.07 1809.80L1009.18 1809.12L1010.28 1808.49L1011.38 1807.90L1012.48 1807.35L1013.59 1806.82L1014.69 1806.31L1015.79 1805.82L1016.89 1805.38L1018.00 1804.97L1019.10 1804.58L1020.20 1804.23L1021.31 1803.88L1022.41 1803.55L1023.51 1803.22L1024.60 1802.90L1025.67 1802.61L1026.72 1802.34L1027.78 1802.08L1028.86 1801.82L1029.97 1801.56L1031.13 1801.29L1032.33 1801.01L1033.61 1800.73L1034.94 1800.44L1036.31 1800.15L1037.71 1799.86L1039.13 1799.56L1040.55 1799.25L1041.97 1798.92L1043.36 1798.59L1044.74 1798.24L1046.12 1797.90L1047.50 1797.55L1048.88 1797.18L1050.25 1796.80L1051.63 1796.40L1053.01 1795.97L1054.39 1795.50L1055.77 1795.01L1057.15 1794.51L1058.52 1793.98L1059.90 1793.43L1061.28 1792.85L1062.66 1792.23L1064.04 1791.57L1065.42 1790.87L1066.80 1790.13L1068.17 1789.37L1069.55 1788.57L1070.93 1787.74L1072.31 1786.86L1073.69 1785.91L1075.07 1784.90L1076.44 1783.81L1077.82 1782.65L1079.20 1781.41L1080.58 1780.11L1081.96 1778.75L1083.34 1777.34L1084.72 1775.87L1086.09 1774.35L1087.47 1772.78L1088.87 1771.12L1090.28 1769.33L1091.70 1767.46L1093.12 1765.55L1094.53 1763.65L1095.90 1761.80L1097.23 1760.05L1098.50 1758.45L1099.71 1756.98L1100.86 1755.59L1101.97 1754.28L1103.05 1753.03L1104.11 1751.84L1105.17 1750.70L1106.23 1749.60L1107.32 1748.52L1108.44 1747.47L1109.58 1746.45L1110.73 1745.46L1111.87 1744.52L1113.00 1743.65L1114.09 1742.84L1115.15 1742.11L1116.14 1741.46L1117.08 1740.93L1117.98 1740.49L1118.84 1740.13L1119.66 1739.84L1120.46 1739.60L1121.24 1739.40L1122.00 1739.21L1122.76 1739.04L1123.50 1738.87L1124.22 1738.74L1124.91 1738.63L1125.59 1738.56L1126.26 1738.51L1126.92 1738.51L1127.59 1738.53L1128.28 1738.60L1128.96 1738.68L1129.63 1738.79L1130.29 1738.91L1130.96 1739.08L1131.64 1739.30L1132.33 1739.57L1133.05 1739.93L1133.79 1740.36L1134.56 1740.87L1135.37 1741.44L1136.19 1742.06L1137.03 1742.76L1137.88 1743.53L1138.73 1744.37L1139.57 1745.30L1140.41 1746.32L1141.23 1747.42L1142.06 1748.61L1142.89 1749.89L1143.71 1751.24L1144.54 1752.66L1145.37 1754.16L1146.20 1755.72L1147.02 1757.34L1147.85 1759.03L1148.68 1760.79L1149.50 1762.62L1150.33 1764.51L1151.16 1766.48L1151.99 1768.51L1152.81 1770.61L1153.64 1772.78L1154.47 1775.02L1155.29 1777.33L1156.12 1779.71L1156.95 1782.16L1157.77 1784.67L1158.60 1787.26L1159.43 1789.91L1160.26 1792.63L1161.08 1795.42L1161.91 1798.29L1162.74 1801.21L1163.56 1804.21L1164.39 1807.28L1165.22 1810.42L1166.05 1813.62L1166.87 1816.89L1167.71 1820.28L1168.55 1823.80L1169.40 1827.42L1170.25 1831.09L1171.09 1834.78L1171.91 1838.45L1172.71 1842.06L1173.49 1845.57L1174.24 1849.02L1174.97 1852.48L1175.69 1855.92L1176.38 1859.32L1177.06 1862.66L1177.73 1865.90L1178.37 1869.04L1179.00 1872.03L1179.64 1875.00L1180.29 1878.02L1180.93 1880.99L1181.55 1883.83L1182.13 1886.47L1182.65 1888.82L1183.08 1890.80L1183.41 1892.32" fill="none" stroke="#ffa500" stroke-width="3.1" stroke-linejoin="round" />
<path d="M593.57 1950.47L594.12 1948.23L594.86 1945.27L595.73 1941.74L596.70 1937.82L597.74 1933.64L598.80 1929.39L599.86 1925.20L600.87 1921.25L601.87 1917.41L602.89 1913.49L603.93 1909.52L604.98 1905.53L606.04 1901.54L607.11 1897.60L608.17 1893.72L609.22 1889.94L610.27 1886.22L611.31 1882.53L612.35 1878.87L613.40 1875.26L614.44 1871.73L615.48 1868.29L616.53 1864.96L617.57 1861.76L618.61 1858.67L619.66 1855.65L620.70 1852.72L621.74 1849.89L622.79 1847.18L623.83 1844.59L624.88 1842.14L625.92 1839.85L626.98 1837.69L628.06 1835.66L629.14 1833.76L630.22 1831.99L631.29 1830.36L632.33 1828.86L633.32 1827.50L634.27 1826.28L635.16 1825.23L636.02 1824.37L636.84 1823.67L637.63 1823.10L638.40 1822.62L639.13 1822.21L639.84 1821.84L640.53 1821.48L641.18 1821.15L641.77 1820.89L642.32 1820.69L642.85 1820.55L643.38 1820.46L643.93 1820.42L644.50 1820.41L645.12 1820.43L645.78 1820.47L646.44 1820.52L647.11 1820.60L647.81 1820.72L648.54 1820.92L649.30 1821.20L650.11 1821.59L650.97 1822.10L651.89 1822.74L652.88 1823.48L653.91 1824.32L654.98 1825.25L656.07 1826.27L657.17 1827.37L658.25 1828.56L659.32 1829.83L660.36 1831.19L661.40 1832.65L662.45 1834.20L663.49 1835.84L664.53 1837.55L665.58 1839.31L666.62 1841.13L667.66 1842.98L668.71 1844.89L669.75 1846.88L670.80 1848.93L671.84 1851.04L672.88 1853.18L673.93 1855.34L674.97 1857.51L676.01 1859.67L677.06 1861.84L678.10 1864.04L679.14 1866.25L680.19 1868.48L681.23 1870.72L682.28 1872.96L683.32 1875.19L684.36 1877.42L685.41 1879.64L686.45 1881.88L687.49 1884.11L688.54 1886.35L689.58 1888.58L690.62 1890.80L691.67 1892.99L692.71 1895.16L693.75 1897.32L694.80 1899.48L695.84 1901.63L696.89 1903.77L697.93 1905.87L698.97 1907.93L700.02 1909.93L701.06 1911.86L702.10 1913.72L703.15 1915.54L704.19 1917.31L705.23 1919.03L706.28 1920.70L707.32 1922.32L708.37 1923.90L709.41 1925.42L710.45 1926.90L711.50 1928.33L712.54 1929.70L713.58 1931.03L714.63 1932.31L715.67 1933.54L716.71 1934.73L717.76 1935.86L718.79 1936.93L719.80 1937.94L720.80 1938.90L721.80 1939.81L722.82 1940.68L723.87 1941.53L724.96 1942.35L726.11 1943.16L727.31 1943.96L728.57 1944.74L729.87 1945.50L731.19 1946.23L732.54 1946.93L733.89 1947.59L735.22 1948.22L736.54 1948.80L737.83 1949.34L739.10 1949.84L740.37 1950.29L741.63 1950.72L742.91 1951.11L744.22 1951.48L745.58 1951.82L746.98 1952.14L748.40 1952.43L749.82 1952.69L751.25 1952.92L752.72 1953.13L754.26 1953.32L755.88 1953.49L757.62 1953.65L759.50 1953.81L761.54 1953.96L763.71 1954.09L766.00 1954.20L768.37 1954.30L770.82 1954.40L773.30 1954.48L775.80 1954.57L778.29 1954.64L780.80 1954.72L783.36 1954.79L785.96 1954.86L788.59 1954.92L791.24 1954.97L793.89 1955.01L796.54 1955.04L799.16 1955.06L801.77 1955.07L804.38 1955.08L806.99 1955.08L809.60 1955.06L812.21 1955.04L814.82 1954.99L817.42 1954.93L820.03 1954.85L822.64 1954.75L825.25 1954.62L827.86 1954.48L830.47 1954.32L833.08 1954.15L835.69 1953.97L838.30 1953.78L840.91 1953.60L843.51 1953.41L846.12 1953.21L848.73 1953.00L851.34 1952.78L853.95 1952.56L856.56 1952.34L859.17 1952.13L861.78 1951.93L864.41 1951.73L867.08 1951.51L869.76 1951.30L872.43 1951.09L875.08 1950.90L877.68 1950.72L880.21 1950.58L882.65 1950.47L884.96 1950.40L887.13 1950.35L889.21 1950.33L891.25 1950.34L893.30 1950.36L895.41 1950.41L897.63 1950.47L900.00 1950.55L902.53 1950.65L905.18 1950.77L907.93 1950.92L910.73 1951.08L913.58 1951.26L916.43 1951.45L919.27 1951.66L922.06 1951.87L924.81 1952.11L927.57 1952.38L930.33 1952.68L933.08 1952.98L935.84 1953.28L938.60 1953.57L941.35 1953.84L944.11 1954.08L946.87 1954.30L949.63 1954.50L952.38 1954.70L955.14 1954.88L957.90 1955.04L960.65 1955.19L963.41 1955.31L966.17 1955.40L969.00 1955.46L971.94 1955.49L974.92 1955.48L977.88 1955.46L980.76 1955.43L983.48 1955.40L985.99 1955.39L988.22 1955.40L990.13 1955.43L991.75 1955.45L993.17 1955.48L994.43 1955.51L995.60 1955.56L996.75 1955.63L997.95 1955.72L999.25 1955.84L1000.64 1955.99L1002.06 1956.16L1003.48 1956.35L1004.90 1956.56L1006.30 1956.79L1007.68 1957.04L1009.00 1957.32L1010.28 1957.61L1011.49 1957.92L1012.64 1958.24L1013.75 1958.58L1014.83 1958.95L1015.89 1959.34L1016.95 1959.75L1018.01 1960.21L1019.10 1960.70L1020.20 1961.22L1021.31 1961.76L1022.41 1962.34L1023.51 1962.94L1024.61 1963.59L1025.72 1964.27L1026.82 1965.00L1027.92 1965.77L1029.03 1966.59L1030.13 1967.44L1031.23 1968.33L1032.33 1969.26L1033.44 1970.24L1034.54 1971.26L1035.64 1972.35L1036.74 1973.49L1037.85 1974.69L1038.95 1975.96L1040.05 1977.29L1041.16 1978.66L1042.26 1980.07L1043.36 1981.53L1044.46 1983.01L1045.57 1984.52L1046.67 1986.05L1047.77 1987.62L1048.88 1989.22L1049.98 1990.86L1051.08 1992.53L1052.18 1994.24L1053.29 1995.98L1054.39 1997.75L1055.51 1999.60L1056.65 2001.53L1057.79 2003.52L1058.94 2005.54L1060.06 2007.55L1061.16 2009.51L1062.21 2011.40L1063.21 2013.19L1064.15 2014.88L1065.05 2016.52L1065.90 2018.11L1066.73 2019.64L1067.52 2021.13L1068.30 2022.57L1069.07 2023.96L1069.83 2025.32L1070.61 2026.68L1071.41 2028.05L1072.22 2029.41L1073.00 2030.71L1073.73 2031.91L1074.38 2032.99L1074.92 2033.89L1075.34 2034.58" fill="none" stroke="#ff0000" stroke-width="3.1" stroke-linejoin="round" />
</g>
<rect x="584.70" y="1706.40" width="686.60" height="433.40" fill="none" stroke="#000" stroke-width="2.8"/>
<path d="M682.79 2139.80v-10.90M682.79 1706.40v10.90M780.87 2139.80v-10.90M780.87 1706.40v10.90M878.96 2139.80v-10.90M878.96 1706.40v10.90M977.04 2139.80v-10.90M977.04 1706.40v10.90M1075.13 2139.80v-10.90M1075.13 1706.40v10.90M1173.21 2139.80v-10.90M1173.21 1706.40v10.90M584.70 2085.62h10.90M1271.30 2085.62h-10.90M584.70 2031.45h10.90M1271.30 2031.45h-10.90M584.70 1977.28h10.90M1271.30 1977.28h-10.90M584.70 1923.10h10.90M1271.30 1923.10h-10.90M584.70 1868.93h10.90M1271.30 1868.93h-10.90M584.70 1814.75h10.90M1271.30 1814.75h-10.90M584.70 1760.58h10.90M1271.30 1760.58h-10.90" stroke="#000" stroke-width="2.5" fill="none"/>
<text x="584.70" y="2170.60" font-size="30.50" text-anchor="middle">0.0</text>
<text x="682.79" y="2170.60" font-size="30.50" text-anchor="middle">0.1</text>
<text x="780.87" y="2170.60" font-size="30.50" text-anchor="middle">0.2</text>
<text x="878.96" y="2170.60" font-size="30.50" text-anchor="middle">0.3</text>
<text x="977.04" y="2170.60" font-size="30.50" text-anchor="middle">0.4</text>
<text x="1075.13" y="2170.60" font-size="30.50" text-anchor="middle">0.5</text>
<text x="1173.21" y="2170.60" font-size="30.50" text-anchor="middle">0.6</text>
<text x="1271.30" y="2170.60" font-size="30.50" text-anchor="middle">0.7</text>
<text x="577.00" y="2148.80" font-size="30.50" text-anchor="end">0.0</text>
<text x="577.00" y="2094.62" font-size="30.50" text-anchor="end">0.5</text>
<text x="577.00" y="2040.45" font-size="30.50" text-anchor="end">1.0</text>
<text x="577.00" y="1986.28" font-size="30.50" text-anchor="end">1.5</text>
<text x="577.00" y="1932.10" font-size="30.50" text-anchor="end">2.0</text>
<text x="577.00" y="1877.93" font-size="30.50" text-anchor="end">2.5</text>
<text x="577.00" y="1823.75" font-size="30.50" text-anchor="end">3.0</text>
<text x="577.00" y="1769.58" font-size="30.50" text-anchor="end">3.5</text>
<text x="577.00" y="1715.40" font-size="30.50" text-anchor="end">4.0</text>
<text><tspan x="857.50" y="2209.70" font-size="34" textLength="18.00" lengthAdjust="spacingAndGlyphs">L</tspan><tspan x="876.00" y="2214.40" font-size="23" textLength="77.30" lengthAdjust="spacingAndGlyphs">cathode</tspan><tspan x="954.00" y="2209.70" font-size="34">[</tspan><tspan x="963.50" y="2209.70" font-size="33" font-style="italic" textLength="27.50" lengthAdjust="spacingAndGlyphs">m</tspan><tspan x="990.00" y="2209.70" font-size="34">]</tspan></text>
<text x="523.20" y="2071.20" font-size="31.50" textLength="296.00" lengthAdjust="spacingAndGlyphs" stroke="#000" stroke-width="0.8" transform="rotate(-90 523.20 2071.20)" font-family="'DejaVu Serif','Liberation Serif',serif">Probability Density</text>
<rect x="595.8" y="1718" width="511.2" height="70.5" fill="#fff" stroke="#000" stroke-width="2.3"/>
<path d="M609.1 1735.5H643.7" stroke="#ffa500" stroke-width="3.1"/>
<path d="M609.1 1767.9H643.7" stroke="#ff0000" stroke-width="3.1"/>
<text><tspan x="667.20" y="1742.60" font-size="21.6" font-family="'DejaVu Serif','Liberation Serif',serif" textLength="289.50" lengthAdjust="spacingAndGlyphs" stroke="#000" stroke-width="0.6">10% Worst of Blind Test Set </tspan><tspan x="958.00" y="1742.60" font-size="24" textLength="13.50" lengthAdjust="spacingAndGlyphs">L</tspan><tspan x="971.80" y="1746.60" font-size="16.5" textLength="52.00" lengthAdjust="spacingAndGlyphs">cathode</tspan><tspan x="1025.20" y="1742.60" font-size="21.6" font-family="'DejaVu Serif','Liberation Serif',serif" textLength="73.30" lengthAdjust="spacingAndGlyphs" stroke="#000" stroke-width="0.6"> Values</tspan></text>
<text><tspan x="667.20" y="1775.50" font-size="21.6" font-family="'DejaVu Serif','Liberation Serif',serif" textLength="62.00" lengthAdjust="spacingAndGlyphs" stroke="#000" stroke-width="0.6">Train </tspan><tspan x="731.00" y="1775.50" font-size="24" textLength="13.50" lengthAdjust="spacingAndGlyphs">L</tspan><tspan x="744.80" y="1779.50" font-size="16.5" textLength="52.00" lengthAdjust="spacingAndGlyphs">cathode</tspan><tspan x="796.80" y="1775.50" font-size="21.6" font-family="'DejaVu Serif','Liberation Serif',serif" textLength="73.90" lengthAdjust="spacingAndGlyphs" stroke="#000" stroke-width="0.6"> Values</tspan></text>
<text x="912.6" y="2266.1" font-size="48" text-anchor="middle"><tspan font-size="51">(</tspan>d<tspan font-size="51">)</tspan></text>
</svg>
</body></html>
